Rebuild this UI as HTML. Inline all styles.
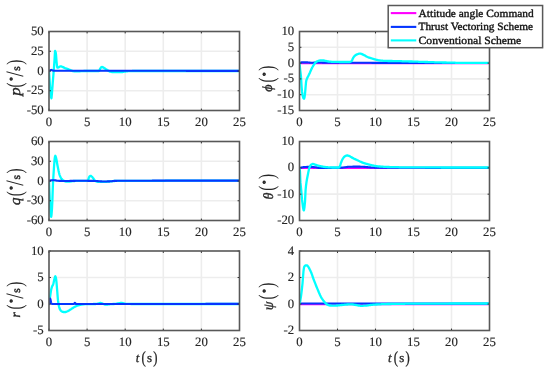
<!DOCTYPE html>
<html><head><meta charset="utf-8"><style>html,body{margin:0;padding:0;background:#fff;width:550px;height:372px;overflow:hidden}svg{display:block}</style></head>
<body>
<svg width="550" height="372" viewBox="0 0 550 372" text-rendering="geometricPrecision">
<rect width="550" height="372" fill="#fff"/>
<path d="M87.10,31.50V110.50M125.20,31.50V110.50M163.30,31.50V110.50M201.40,31.50V110.50M49.00,90.75H239.50M49.00,71.00H239.50M49.00,51.25H239.50" stroke="#ededed" stroke-width="1.6" fill="none"/>
<path d="M337.50,31.50V110.50M375.50,31.50V110.50M413.50,31.50V110.50M451.50,31.50V110.50M299.50,94.70H489.50M299.50,78.90H489.50M299.50,63.10H489.50M299.50,47.30H489.50" stroke="#ededed" stroke-width="1.6" fill="none"/>
<path d="M87.10,141.50V220.50M125.20,141.50V220.50M163.30,141.50V220.50M201.40,141.50V220.50M49.00,200.75H239.50M49.00,181.00H239.50M49.00,161.25H239.50" stroke="#ededed" stroke-width="1.6" fill="none"/>
<path d="M337.50,141.50V220.50M375.50,141.50V220.50M413.50,141.50V220.50M451.50,141.50V220.50M299.50,194.17H489.50M299.50,167.83H489.50" stroke="#ededed" stroke-width="1.6" fill="none"/>
<path d="M87.10,251.00V330.50M125.20,251.00V330.50M163.30,251.00V330.50M201.40,251.00V330.50M49.00,304.00H239.50M49.00,277.50H239.50" stroke="#ededed" stroke-width="1.6" fill="none"/>
<path d="M337.50,251.00V330.50M375.50,251.00V330.50M413.50,251.00V330.50M451.50,251.00V330.50M299.50,304.00H489.50M299.50,277.50H489.50" stroke="#ededed" stroke-width="1.6" fill="none"/>
<clipPath id="c0"><rect x="49.00" y="31.50" width="190.50" height="79.00"/></clipPath>
<clipPath id="c1"><rect x="299.50" y="31.50" width="190.00" height="79.00"/></clipPath>
<clipPath id="c2"><rect x="49.00" y="141.50" width="190.50" height="79.00"/></clipPath>
<clipPath id="c3"><rect x="299.50" y="141.50" width="190.00" height="79.00"/></clipPath>
<clipPath id="c4"><rect x="49.00" y="251.00" width="190.50" height="79.50"/></clipPath>
<clipPath id="c5"><rect x="299.50" y="251.00" width="190.00" height="79.50"/></clipPath>
<g clip-path="url(#c0)"><path d="M49.0,71.0 L49.5,78.5 L49.6,80.0 L50.0,86.6 L50.4,92.0 L50.5,92.9 L51.0,96.9 L51.4,98.3 L51.5,98.1 L52.0,92.6 L52.2,90.0 L52.5,86.1 L52.8,82.0 L53.0,79.5 L53.5,73.5 L53.7,71.0 L54.0,67.0 L54.5,60.0 L55.0,51.5 L55.1,51.0 L55.5,51.8 L55.8,53.0 L56.0,54.7 L56.5,61.0 L57.0,66.1 L57.3,67.5 L57.5,67.5 L58.0,67.5 L58.5,67.4 L59.0,67.2 L59.5,66.8 L60.0,66.5 L60.5,66.3 L61.0,66.4 L61.5,66.5 L62.0,66.7 L62.5,66.9 L63.0,67.1 L63.5,67.4 L64.0,67.6 L64.5,67.9 L64.8,68.0 L65.0,68.1 L65.5,68.3 L66.0,68.5 L66.5,68.6 L67.0,68.8 L67.5,69.0 L68.0,69.1 L68.5,69.3 L69.0,69.5 L69.5,69.7 L70.0,69.9 L70.5,70.2 L71.0,70.4 L71.5,70.6 L72.0,70.8 L72.5,71.0 L73.0,71.1 L73.5,71.2 L74.0,71.3 L74.5,71.3 L75.0,71.3 L75.5,71.4 L76.0,71.4 L76.5,71.4 L77.0,71.4 L77.5,71.4 L78.0,71.4 L78.5,71.4 L79.0,71.4 L79.5,71.3 L80.0,71.3 L80.5,71.2 L81.0,71.2 L81.5,71.1 L82.0,71.1 L82.5,71.1 L83.0,71.1 L83.5,71.1 L84.0,71.0 L84.5,71.0 L85.0,71.0 L85.5,71.0 L86.0,71.0 L86.5,71.0 L87.0,71.0 L87.5,71.0 L88.0,71.0 L88.5,71.0 L89.0,71.0 L89.5,71.0 L90.0,71.0 L90.5,71.0 L91.0,71.0 L91.5,71.0 L92.0,71.0 L92.5,71.0 L93.0,71.0 L93.5,71.0 L94.0,71.0 L94.5,71.0 L95.0,71.0 L95.5,71.0 L96.0,71.0 L96.5,71.0 L97.0,71.0 L97.5,71.0 L98.0,71.0 L98.5,71.0 L99.0,71.0 L99.5,70.3 L100.0,69.0 L100.2,68.6 L100.5,68.2 L101.0,67.5 L101.5,67.1 L101.8,67.0 L102.0,67.0 L102.5,67.1 L103.0,67.4 L103.5,67.6 L104.0,67.9 L104.5,68.2 L105.0,68.5 L105.5,68.9 L106.0,69.2 L106.5,69.5 L107.0,69.9 L107.5,70.2 L108.0,70.5 L108.5,70.8 L109.0,71.1 L109.5,71.4 L110.0,71.6 L110.5,71.7 L111.0,71.8 L111.5,71.9 L112.0,72.0 L112.5,72.1 L113.0,72.1 L113.5,72.1 L114.0,72.1 L114.5,72.1 L115.0,72.2 L115.5,72.2 L116.0,72.2 L116.5,72.2 L117.0,72.2 L117.5,72.2 L118.0,72.2 L118.5,72.2 L119.0,72.2 L119.5,72.2 L120.0,72.1 L120.5,72.1 L121.0,72.1 L121.5,72.0 L122.0,72.0 L122.5,72.0 L123.0,71.9 L123.5,71.8 L124.0,71.7 L124.5,71.6 L125.0,71.6 L125.5,71.5 L126.0,71.4 L126.5,71.3 L127.0,71.3 L127.5,71.3 L128.0,71.2 L128.5,71.2 L129.0,71.2 L129.5,71.2 L130.0,71.1 L130.5,71.1 L131.0,71.1 L131.5,71.1 L132.0,71.1 L132.5,71.0 L133.0,71.0 L133.5,71.0 L134.0,71.0 L134.5,71.0 L135.0,71.0 L135.5,71.0 L136.0,71.0 L136.5,71.0 L137.0,71.0 L137.5,71.0 L138.0,71.0 L138.5,71.0 L139.0,71.0 L139.5,71.0 L140.0,71.0 L140.5,71.0 L141.0,71.0 L141.5,71.0 L142.0,71.0 L142.5,71.0 L143.0,71.0 L143.5,71.0 L144.0,71.0 L144.5,71.0 L145.0,71.0 L145.5,71.0 L146.0,71.0 L146.5,71.0 L147.0,71.0 L147.5,71.0 L148.0,71.0 L148.5,71.0 L149.0,71.0 L149.5,71.0 L150.0,71.0 L150.5,71.0 L151.0,71.0 L151.5,71.0 L152.0,71.0 L152.5,71.0 L153.0,71.0 L153.5,71.0 L154.0,71.0 L154.5,71.0 L155.0,71.0 L155.5,71.0 L156.0,71.0 L156.5,71.0 L157.0,71.0 L157.5,71.0 L158.0,71.0 L158.5,71.0 L159.0,71.0 L159.5,71.0 L160.0,71.0 L160.5,71.0 L161.0,71.0 L161.5,71.0 L162.0,71.0 L162.5,71.0 L163.0,71.0 L163.5,71.0 L164.0,71.0 L164.5,71.0 L165.0,71.0 L165.5,71.0 L166.0,71.0 L166.5,71.0 L167.0,71.0 L167.5,71.0 L168.0,71.0 L168.5,71.0 L169.0,71.0 L169.5,71.0 L170.0,71.0 L170.5,71.0 L171.0,71.0 L171.5,71.0 L172.0,71.0 L172.5,71.0 L173.0,71.0 L173.5,71.0 L174.0,71.0 L174.5,71.0 L175.0,71.0 L175.5,71.0 L176.0,71.0 L176.5,71.0 L177.0,71.0 L177.5,71.0 L178.0,71.0 L178.5,71.0 L179.0,71.0 L179.5,71.0 L180.0,71.0 L180.5,71.0 L181.0,71.0 L181.5,71.0 L182.0,71.0 L182.5,71.0 L183.0,71.0 L183.5,71.0 L184.0,71.0 L184.5,71.0 L185.0,71.0 L185.5,71.0 L186.0,71.0 L186.5,71.0 L187.0,71.0 L187.5,71.0 L188.0,71.0 L188.5,71.0 L189.0,71.0 L189.5,71.0 L190.0,71.0 L190.5,71.0 L191.0,71.0 L191.5,71.0 L192.0,71.0 L192.5,71.0 L193.0,71.0 L193.5,71.0 L194.0,71.0 L194.5,71.0 L195.0,71.0 L195.5,71.0 L196.0,71.0 L196.5,71.0 L197.0,71.0 L197.5,71.0 L198.0,71.0 L198.5,71.0 L199.0,71.0 L199.5,71.0 L200.0,71.0 L200.5,71.0 L201.0,71.0 L201.5,71.0 L202.0,71.0 L202.5,71.0 L203.0,71.0 L203.5,71.0 L204.0,71.0 L204.5,71.0 L205.0,71.0 L205.5,71.0 L206.0,71.0 L206.5,71.0 L207.0,71.0 L207.5,71.0 L208.0,71.0 L208.5,71.0 L209.0,71.0 L209.5,71.0 L210.0,71.0 L210.5,71.0 L211.0,71.0 L211.5,71.0 L212.0,71.0 L212.5,71.0 L213.0,71.0 L213.5,71.0 L214.0,71.0 L214.5,71.0 L215.0,71.0 L215.5,71.0 L216.0,71.0 L216.5,71.0 L217.0,71.0 L217.5,71.0 L218.0,71.0 L218.5,71.0 L219.0,71.0 L219.5,71.0 L220.0,71.0 L220.5,71.0 L221.0,71.0 L221.5,71.0 L222.0,71.0 L222.5,71.0 L223.0,71.0 L223.5,71.0 L224.0,71.0 L224.5,71.0 L225.0,71.0 L225.5,71.0 L226.0,71.0 L226.5,71.0 L227.0,71.0 L227.5,71.0 L228.0,71.0 L228.5,71.0 L229.0,71.0 L229.5,71.0 L230.0,71.0 L230.5,71.0 L231.0,71.0 L231.5,71.0 L232.0,71.0 L232.5,71.0 L233.0,71.0 L233.5,71.0 L234.0,71.0 L234.5,71.0 L235.0,71.0 L235.5,71.0 L236.0,71.0 L236.5,71.0 L237.0,71.0 L237.5,71.0 L238.0,71.0 L238.5,71.0 L239.0,71.0 L239.5,71.0" stroke="#00ffff" stroke-width="2.3" fill="none" stroke-linejoin="round" stroke-linecap="round"/><path d="M49.0,71.0 L49.5,70.7 L50.0,70.5 L50.2,70.4 L50.5,70.2 L51.0,70.0 L51.4,69.9 L51.5,69.9 L52.0,70.1 L52.5,70.4 L52.6,70.4 L53.0,70.5 L53.5,70.7 L54.0,70.8 L54.5,70.8 L55.0,70.8 L55.5,70.8 L56.0,70.8 L56.5,70.8 L57.0,70.8 L57.5,70.8 L58.0,70.8 L58.5,70.8 L59.0,70.8 L59.5,70.8 L60.0,70.8 L60.5,70.8 L61.0,70.8 L61.5,70.8 L62.0,70.8 L62.5,70.8 L63.0,70.8 L63.5,70.8 L64.0,70.8 L64.5,70.8 L65.0,70.8 L65.5,70.8 L66.0,70.8 L66.5,70.8 L67.0,70.8 L67.5,70.8 L68.0,70.8 L68.5,70.8 L69.0,70.8 L69.5,70.8 L70.0,70.8 L70.5,70.8 L71.0,70.8 L71.5,70.8 L72.0,70.8 L72.5,70.8 L73.0,70.8 L73.5,70.8 L74.0,70.8 L74.5,70.8 L75.0,70.8 L75.5,70.8 L76.0,70.8 L76.5,70.8 L77.0,70.8 L77.5,70.8 L78.0,70.8 L78.5,70.8 L79.0,70.8 L79.5,70.8 L80.0,70.8 L80.5,70.8 L81.0,70.8 L81.5,70.8 L82.0,70.8 L82.5,70.8 L83.0,70.8 L83.5,70.8 L84.0,70.8 L84.5,70.8 L85.0,70.8 L85.5,70.8 L86.0,70.8 L86.5,70.8 L87.0,70.8 L87.5,70.8 L88.0,70.8 L88.5,70.8 L89.0,70.8 L89.5,70.8 L90.0,70.8 L90.5,70.8 L91.0,70.8 L91.5,70.8 L92.0,70.8 L92.5,70.8 L93.0,70.8 L93.5,70.8 L94.0,70.8 L94.5,70.8 L95.0,70.8 L95.5,70.8 L96.0,70.8 L96.5,70.8 L97.0,70.8 L97.5,70.8 L98.0,70.8 L98.5,70.8 L99.0,70.8 L99.5,70.8 L100.0,70.8 L100.5,70.8 L101.0,70.8 L101.5,70.8 L102.0,70.8 L102.5,70.8 L103.0,70.8 L103.5,70.8 L104.0,70.8 L104.5,70.8 L105.0,70.8 L105.5,70.8 L106.0,70.8 L106.5,70.8 L107.0,70.8 L107.5,70.8 L108.0,70.8 L108.5,70.8 L109.0,70.8 L109.5,70.8 L110.0,70.8 L110.5,70.8 L111.0,70.8 L111.5,70.8 L112.0,70.8 L112.5,70.8 L113.0,70.8 L113.5,70.8 L114.0,70.8 L114.5,70.8 L115.0,70.8 L115.5,70.8 L116.0,70.8 L116.5,70.8 L117.0,70.8 L117.5,70.8 L118.0,70.8 L118.5,70.8 L119.0,70.8 L119.5,70.8 L120.0,70.8 L120.5,70.8 L121.0,70.8 L121.5,70.8 L122.0,70.8 L122.5,70.8 L123.0,70.8 L123.5,70.8 L124.0,70.8 L124.5,70.8 L125.0,70.8 L125.5,70.8 L126.0,70.8 L126.5,70.8 L127.0,70.8 L127.5,70.8 L128.0,70.8 L128.5,70.8 L129.0,70.8 L129.5,70.8 L130.0,70.8 L130.5,70.8 L131.0,70.8 L131.5,70.8 L132.0,70.8 L132.5,70.8 L133.0,70.8 L133.5,70.8 L134.0,70.8 L134.5,70.8 L135.0,70.8 L135.5,70.8 L136.0,70.8 L136.5,70.8 L137.0,70.8 L137.5,70.8 L138.0,70.8 L138.5,70.8 L139.0,70.8 L139.5,70.8 L140.0,70.8 L140.5,70.8 L141.0,70.8 L141.5,70.8 L142.0,70.8 L142.5,70.8 L143.0,70.8 L143.5,70.8 L144.0,70.8 L144.5,70.8 L145.0,70.8 L145.5,70.8 L146.0,70.8 L146.5,70.8 L147.0,70.8 L147.5,70.8 L148.0,70.8 L148.5,70.8 L149.0,70.8 L149.5,70.8 L150.0,70.8 L150.5,70.8 L151.0,70.8 L151.5,70.8 L152.0,70.8 L152.5,70.8 L153.0,70.8 L153.5,70.8 L154.0,70.8 L154.5,70.8 L155.0,70.8 L155.5,70.8 L156.0,70.8 L156.5,70.8 L157.0,70.8 L157.5,70.8 L158.0,70.8 L158.5,70.8 L159.0,70.8 L159.5,70.8 L160.0,70.8 L160.5,70.8 L161.0,70.8 L161.5,70.8 L162.0,70.8 L162.5,70.8 L163.0,70.8 L163.5,70.8 L164.0,70.8 L164.5,70.8 L165.0,70.8 L165.5,70.8 L166.0,70.8 L166.5,70.8 L167.0,70.8 L167.5,70.8 L168.0,70.8 L168.5,70.8 L169.0,70.8 L169.5,70.8 L170.0,70.8 L170.5,70.8 L171.0,70.8 L171.5,70.8 L172.0,70.8 L172.5,70.8 L173.0,70.8 L173.5,70.8 L174.0,70.8 L174.5,70.8 L175.0,70.8 L175.5,70.8 L176.0,70.8 L176.5,70.8 L177.0,70.8 L177.5,70.8 L178.0,70.8 L178.5,70.8 L179.0,70.8 L179.5,70.8 L180.0,70.8 L180.5,70.8 L181.0,70.8 L181.5,70.8 L182.0,70.8 L182.5,70.8 L183.0,70.8 L183.5,70.8 L184.0,70.8 L184.5,70.8 L185.0,70.8 L185.5,70.8 L186.0,70.8 L186.5,70.9 L187.0,70.9 L187.5,70.9 L188.0,70.9 L188.5,70.9 L189.0,70.9 L189.5,70.9 L190.0,70.9 L190.5,70.9 L191.0,70.9 L191.5,70.9 L192.0,70.9 L192.5,70.9 L193.0,70.9 L193.5,70.9 L194.0,70.9 L194.5,70.9 L195.0,70.9 L195.5,70.9 L196.0,70.9 L196.5,70.9 L197.0,70.9 L197.5,70.9 L198.0,70.9 L198.5,70.9 L199.0,70.9 L199.5,70.9 L200.0,70.9 L200.5,70.9 L201.0,70.9 L201.5,70.9 L202.0,70.9 L202.5,70.9 L203.0,70.9 L203.5,70.9 L204.0,70.9 L204.5,70.9 L205.0,70.9 L205.5,70.9 L206.0,70.9 L206.5,70.9 L207.0,70.9 L207.5,70.9 L208.0,70.9 L208.5,70.9 L209.0,70.9 L209.5,70.9 L210.0,70.9 L210.5,70.9 L211.0,70.9 L211.5,70.9 L212.0,70.9 L212.5,70.9 L213.0,70.9 L213.5,70.9 L214.0,70.9 L214.5,70.9 L215.0,70.9 L215.5,70.9 L216.0,70.9 L216.5,70.9 L217.0,70.9 L217.5,70.9 L218.0,70.9 L218.5,70.9 L219.0,70.9 L219.5,70.9 L220.0,70.9 L220.5,70.9 L221.0,70.9 L221.5,70.9 L222.0,70.9 L222.5,70.9 L223.0,70.9 L223.5,70.9 L224.0,70.9 L224.5,70.9 L225.0,70.9 L225.5,70.9 L226.0,70.9 L226.5,70.9 L227.0,70.9 L227.5,70.9 L228.0,70.9 L228.5,70.9 L229.0,70.9 L229.5,70.9 L230.0,70.9 L230.5,70.9 L231.0,70.9 L231.5,70.9 L232.0,70.9 L232.5,70.9 L233.0,70.9 L233.5,70.9 L234.0,70.9 L234.5,70.9 L235.0,70.9 L235.5,70.9 L236.0,70.9 L236.5,70.9 L237.0,70.9 L237.5,70.9 L238.0,70.9 L238.5,70.9 L239.0,70.9 L239.5,70.9" stroke="#0535ff" stroke-width="2.1" fill="none" stroke-linejoin="round" stroke-linecap="round"/></g>
<g clip-path="url(#c2)"><path d="M49.0,180.8 L49.4,190.0 L49.5,192.5 L49.8,200.0 L50.0,203.9 L50.4,210.0 L50.5,211.2 L51.0,216.2 L51.2,216.8 L51.5,215.1 L51.9,210.0 L52.0,208.5 L52.4,200.0 L52.5,197.2 L52.8,188.0 L53.0,183.6 L53.3,178.0 L53.5,174.6 L54.0,167.0 L54.5,160.3 L54.7,158.5 L55.0,156.7 L55.3,155.8 L55.5,156.0 L56.0,157.6 L56.1,158.0 L56.5,159.8 L57.0,162.8 L57.4,165.0 L57.5,165.5 L58.0,168.0 L58.5,170.5 L59.0,172.7 L59.5,174.6 L59.7,175.2 L60.0,176.0 L60.5,177.1 L61.0,178.0 L61.5,178.8 L62.0,179.4 L62.5,179.9 L63.0,180.3 L63.5,180.6 L64.0,180.9 L64.5,181.1 L65.0,181.3 L65.5,181.4 L66.0,181.6 L66.5,181.7 L67.0,181.7 L67.5,181.7 L68.0,181.7 L68.5,181.6 L69.0,181.6 L69.5,181.5 L70.0,181.5 L70.5,181.4 L71.0,181.4 L71.5,181.3 L72.0,181.2 L72.5,181.2 L73.0,181.1 L73.5,181.0 L74.0,181.0 L74.5,181.0 L75.0,180.9 L75.5,180.9 L76.0,180.9 L76.5,180.9 L77.0,180.9 L77.5,180.8 L78.0,180.8 L78.5,180.8 L79.0,180.8 L79.5,180.8 L80.0,180.8 L80.5,180.8 L81.0,180.8 L81.5,180.8 L82.0,180.8 L82.5,180.8 L83.0,180.8 L83.5,180.8 L84.0,180.8 L84.5,180.8 L85.0,180.8 L85.5,180.8 L86.0,180.8 L86.5,180.8 L87.0,180.8 L87.5,180.8 L88.0,180.8 L88.5,178.9 L88.6,178.5 L89.0,177.4 L89.5,176.5 L90.0,176.1 L90.5,175.9 L91.0,176.0 L91.5,176.4 L91.8,176.6 L92.0,176.8 L92.5,177.3 L93.0,178.0 L93.5,178.6 L94.0,179.3 L94.5,180.0 L95.0,180.6 L95.2,180.8 L95.5,181.0 L96.0,181.3 L96.5,181.6 L97.0,181.7 L97.5,181.7 L98.0,181.8 L98.5,181.8 L99.0,181.9 L99.5,181.9 L100.0,181.9 L100.5,181.9 L101.0,181.9 L101.5,181.9 L102.0,181.9 L102.5,181.9 L103.0,181.9 L103.5,181.9 L104.0,181.9 L104.5,181.8 L105.0,181.8 L105.5,181.8 L106.0,181.8 L106.5,181.8 L107.0,181.7 L107.5,181.7 L108.0,181.6 L108.5,181.6 L109.0,181.5 L109.5,181.5 L110.0,181.4 L110.5,181.3 L111.0,181.3 L111.5,181.3 L112.0,181.2 L112.5,181.1 L113.0,181.1 L113.5,181.0 L114.0,181.0 L114.5,181.0 L115.0,180.9 L115.5,180.9 L116.0,180.9 L116.5,180.9 L117.0,180.9 L117.5,180.9 L118.0,180.9 L118.5,180.9 L119.0,180.9 L119.5,180.9 L120.0,180.9 L120.5,180.9 L121.0,180.9 L121.5,180.9 L122.0,180.9 L122.5,180.9 L123.0,180.9 L123.5,180.9 L124.0,180.9 L124.5,180.9 L125.0,180.9 L125.5,180.9 L126.0,180.9 L126.5,180.9 L127.0,180.9 L127.5,180.9 L128.0,180.9 L128.5,180.8 L129.0,180.8 L129.5,180.8 L130.0,180.8 L130.5,180.8 L131.0,180.8 L131.5,180.8 L132.0,180.8 L132.5,180.8 L133.0,180.8 L133.5,180.8 L134.0,180.8 L134.5,180.8 L135.0,180.8 L135.5,180.8 L136.0,180.8 L136.5,180.8 L137.0,180.8 L137.5,180.8 L138.0,180.8 L138.5,180.8 L139.0,180.8 L139.5,180.8 L140.0,180.8 L140.5,180.8 L141.0,180.8 L141.5,180.8 L142.0,180.8 L142.5,180.8 L143.0,180.8 L143.5,180.8 L144.0,180.8 L144.5,180.8 L145.0,180.8 L145.5,180.8 L146.0,180.8 L146.5,180.8 L147.0,180.8 L147.5,180.8 L148.0,180.8 L148.5,180.8 L149.0,180.8 L149.5,180.8 L150.0,180.8 L150.5,180.8 L151.0,180.8 L151.5,180.8 L152.0,180.8 L152.5,180.8 L153.0,180.8 L153.5,180.8 L154.0,180.8 L154.5,180.8 L155.0,180.8 L155.5,180.8 L156.0,180.8 L156.5,180.8 L157.0,180.8 L157.5,180.8 L158.0,180.8 L158.5,180.8 L159.0,180.8 L159.5,180.8 L160.0,180.8 L160.5,180.8 L161.0,180.8 L161.5,180.8 L162.0,180.8 L162.5,180.8 L163.0,180.8 L163.5,180.8 L164.0,180.8 L164.5,180.8 L165.0,180.8 L165.5,180.7 L166.0,180.7 L166.5,180.7 L167.0,180.7 L167.5,180.7 L168.0,180.7 L168.5,180.7 L169.0,180.7 L169.5,180.7 L170.0,180.7 L170.5,180.7 L171.0,180.7 L171.5,180.7 L172.0,180.7 L172.5,180.7 L173.0,180.7 L173.5,180.7 L174.0,180.7 L174.5,180.7 L175.0,180.7 L175.5,180.7 L176.0,180.7 L176.5,180.7 L177.0,180.7 L177.5,180.7 L178.0,180.7 L178.5,180.7 L179.0,180.7 L179.5,180.7 L180.0,180.7 L180.5,180.7 L181.0,180.7 L181.5,180.7 L182.0,180.7 L182.5,180.7 L183.0,180.7 L183.5,180.7 L184.0,180.7 L184.5,180.7 L185.0,180.7 L185.5,180.7 L186.0,180.7 L186.5,180.7 L187.0,180.7 L187.5,180.7 L188.0,180.7 L188.5,180.7 L189.0,180.7 L189.5,180.7 L190.0,180.7 L190.5,180.7 L191.0,180.7 L191.5,180.7 L192.0,180.7 L192.5,180.7 L193.0,180.7 L193.5,180.7 L194.0,180.7 L194.5,180.7 L195.0,180.7 L195.5,180.7 L196.0,180.7 L196.5,180.7 L197.0,180.7 L197.5,180.7 L198.0,180.7 L198.5,180.7 L199.0,180.7 L199.5,180.7 L200.0,180.7 L200.5,180.7 L201.0,180.7 L201.5,180.7 L202.0,180.7 L202.5,180.7 L203.0,180.7 L203.5,180.7 L204.0,180.7 L204.5,180.7 L205.0,180.7 L205.5,180.7 L206.0,180.7 L206.5,180.7 L207.0,180.7 L207.5,180.7 L208.0,180.7 L208.5,180.7 L209.0,180.7 L209.5,180.7 L210.0,180.7 L210.5,180.7 L211.0,180.7 L211.5,180.7 L212.0,180.7 L212.5,180.7 L213.0,180.7 L213.5,180.7 L214.0,180.7 L214.5,180.7 L215.0,180.7 L215.5,180.7 L216.0,180.7 L216.5,180.7 L217.0,180.7 L217.5,180.7 L218.0,180.7 L218.5,180.7 L219.0,180.7 L219.5,180.7 L220.0,180.7 L220.5,180.7 L221.0,180.7 L221.5,180.7 L222.0,180.7 L222.5,180.7 L223.0,180.7 L223.5,180.7 L224.0,180.7 L224.5,180.7 L225.0,180.7 L225.5,180.7 L226.0,180.7 L226.5,180.7 L227.0,180.7 L227.5,180.7 L228.0,180.7 L228.5,180.7 L229.0,180.7 L229.5,180.7 L230.0,180.7 L230.5,180.7 L231.0,180.7 L231.5,180.7 L232.0,180.7 L232.5,180.7 L233.0,180.7 L233.5,180.7 L234.0,180.7 L234.5,180.7 L235.0,180.7 L235.5,180.7 L236.0,180.7 L236.5,180.7 L237.0,180.7 L237.5,180.7 L238.0,180.7 L238.5,180.7 L239.0,180.7 L239.5,180.7" stroke="#00ffff" stroke-width="2.3" fill="none" stroke-linejoin="round" stroke-linecap="round"/><path d="M49.0,181.0 L49.5,180.8 L50.0,180.6 L50.5,180.5 L51.0,180.4 L51.5,180.3 L52.0,180.2 L52.5,180.2 L53.0,180.2 L53.5,180.2 L54.0,180.2 L54.5,180.3 L55.0,180.3 L55.5,180.4 L56.0,180.4 L56.5,180.6 L57.0,180.7 L57.5,180.7 L58.0,180.8 L58.5,180.8 L59.0,180.9 L59.5,180.9 L60.0,180.9 L60.5,180.9 L61.0,180.9 L61.5,180.9 L62.0,181.0 L62.5,181.0 L63.0,181.0 L63.5,181.0 L64.0,181.0 L64.5,181.0 L65.0,181.0 L65.5,181.0 L66.0,181.0 L66.5,181.0 L67.0,181.0 L67.5,181.0 L68.0,181.0 L68.5,181.0 L69.0,181.0 L69.5,181.0 L70.0,180.9 L70.5,180.9 L71.0,180.9 L71.5,180.9 L72.0,180.9 L72.5,180.9 L73.0,180.9 L73.5,180.9 L74.0,180.9 L74.5,180.9 L75.0,180.9 L75.5,180.8 L76.0,180.8 L76.5,180.8 L77.0,180.8 L77.5,180.8 L78.0,180.8 L78.5,180.8 L79.0,180.8 L79.5,180.8 L80.0,180.8 L80.5,180.8 L81.0,180.8 L81.5,180.8 L82.0,180.8 L82.5,180.8 L83.0,180.8 L83.5,180.8 L84.0,180.8 L84.5,180.8 L85.0,180.8 L85.5,180.8 L86.0,180.8 L86.5,180.8 L87.0,180.8 L87.5,180.8 L88.0,180.9 L88.5,180.9 L89.0,180.9 L89.5,180.9 L90.0,180.9 L90.5,180.9 L91.0,180.9 L91.5,180.9 L92.0,180.9 L92.5,180.9 L93.0,180.9 L93.5,180.9 L94.0,181.0 L94.5,181.0 L95.0,181.0 L95.5,181.0 L96.0,181.0 L96.5,181.0 L97.0,181.0 L97.5,181.1 L98.0,181.1 L98.5,181.2 L99.0,181.2 L99.5,181.3 L100.0,181.3 L100.5,181.4 L101.0,181.4 L101.5,181.4 L102.0,181.5 L102.5,181.5 L103.0,181.5 L103.5,181.5 L104.0,181.5 L104.5,181.5 L105.0,181.5 L105.5,181.5 L106.0,181.5 L106.5,181.5 L107.0,181.5 L107.5,181.4 L108.0,181.4 L108.5,181.4 L109.0,181.4 L109.5,181.4 L110.0,181.3 L110.5,181.3 L111.0,181.3 L111.5,181.2 L112.0,181.2 L112.5,181.1 L113.0,181.0 L113.5,181.0 L114.0,181.0 L114.5,180.9 L115.0,180.9 L115.5,180.9 L116.0,180.9 L116.5,180.9 L117.0,180.8 L117.5,180.8 L118.0,180.8 L118.5,180.8 L119.0,180.8 L119.5,180.8 L120.0,180.8 L120.5,180.8 L121.0,180.7 L121.5,180.7 L122.0,180.7 L122.5,180.7 L123.0,180.7 L123.5,180.7 L124.0,180.7 L124.5,180.7 L125.0,180.7 L125.5,180.7 L126.0,180.7 L126.5,180.7 L127.0,180.7 L127.5,180.7 L128.0,180.7 L128.5,180.7 L129.0,180.7 L129.5,180.7 L130.0,180.7 L130.5,180.7 L131.0,180.7 L131.5,180.7 L132.0,180.7 L132.5,180.7 L133.0,180.7 L133.5,180.7 L134.0,180.7 L134.5,180.7 L135.0,180.7 L135.5,180.7 L136.0,180.7 L136.5,180.7 L137.0,180.7 L137.5,180.7 L138.0,180.7 L138.5,180.7 L139.0,180.7 L139.5,180.7 L140.0,180.7 L140.5,180.7 L141.0,180.7 L141.5,180.7 L142.0,180.7 L142.5,180.7 L143.0,180.7 L143.5,180.7 L144.0,180.7 L144.5,180.7 L145.0,180.7 L145.5,180.7 L146.0,180.7 L146.5,180.7 L147.0,180.7 L147.5,180.7 L148.0,180.7 L148.5,180.7 L149.0,180.7 L149.5,180.7 L150.0,180.7 L150.5,180.7 L151.0,180.7 L151.5,180.7 L152.0,180.7 L152.5,180.6 L153.0,180.6 L153.5,180.6 L154.0,180.6 L154.5,180.6 L155.0,180.6 L155.5,180.6 L156.0,180.6 L156.5,180.6 L157.0,180.6 L157.5,180.6 L158.0,180.6 L158.5,180.6 L159.0,180.6 L159.5,180.6 L160.0,180.6 L160.5,180.6 L161.0,180.6 L161.5,180.6 L162.0,180.6 L162.5,180.6 L163.0,180.6 L163.5,180.6 L164.0,180.6 L164.5,180.6 L165.0,180.6 L165.5,180.6 L166.0,180.6 L166.5,180.6 L167.0,180.6 L167.5,180.6 L168.0,180.6 L168.5,180.6 L169.0,180.6 L169.5,180.6 L170.0,180.6 L170.5,180.6 L171.0,180.6 L171.5,180.6 L172.0,180.6 L172.5,180.6 L173.0,180.6 L173.5,180.6 L174.0,180.6 L174.5,180.6 L175.0,180.6 L175.5,180.6 L176.0,180.6 L176.5,180.6 L177.0,180.6 L177.5,180.6 L178.0,180.6 L178.5,180.6 L179.0,180.6 L179.5,180.6 L180.0,180.6 L180.5,180.6 L181.0,180.6 L181.5,180.6 L182.0,180.6 L182.5,180.6 L183.0,180.6 L183.5,180.6 L184.0,180.6 L184.5,180.6 L185.0,180.6 L185.5,180.6 L186.0,180.6 L186.5,180.6 L187.0,180.6 L187.5,180.6 L188.0,180.6 L188.5,180.6 L189.0,180.6 L189.5,180.6 L190.0,180.6 L190.5,180.6 L191.0,180.6 L191.5,180.6 L192.0,180.6 L192.5,180.6 L193.0,180.6 L193.5,180.6 L194.0,180.6 L194.5,180.6 L195.0,180.6 L195.5,180.6 L196.0,180.6 L196.5,180.6 L197.0,180.6 L197.5,180.6 L198.0,180.6 L198.5,180.6 L199.0,180.6 L199.5,180.6 L200.0,180.6 L200.5,180.6 L201.0,180.6 L201.5,180.6 L202.0,180.6 L202.5,180.6 L203.0,180.6 L203.5,180.6 L204.0,180.6 L204.5,180.6 L205.0,180.6 L205.5,180.6 L206.0,180.6 L206.5,180.6 L207.0,180.6 L207.5,180.6 L208.0,180.6 L208.5,180.6 L209.0,180.6 L209.5,180.6 L210.0,180.6 L210.5,180.6 L211.0,180.6 L211.5,180.6 L212.0,180.6 L212.5,180.6 L213.0,180.6 L213.5,180.6 L214.0,180.6 L214.5,180.6 L215.0,180.6 L215.5,180.6 L216.0,180.6 L216.5,180.6 L217.0,180.6 L217.5,180.6 L218.0,180.6 L218.5,180.6 L219.0,180.6 L219.5,180.6 L220.0,180.6 L220.5,180.6 L221.0,180.6 L221.5,180.6 L222.0,180.6 L222.5,180.6 L223.0,180.6 L223.5,180.6 L224.0,180.6 L224.5,180.6 L225.0,180.6 L225.5,180.6 L226.0,180.6 L226.5,180.6 L227.0,180.6 L227.5,180.6 L228.0,180.6 L228.5,180.6 L229.0,180.6 L229.5,180.6 L230.0,180.6 L230.5,180.6 L231.0,180.6 L231.5,180.6 L232.0,180.6 L232.5,180.6 L233.0,180.6 L233.5,180.6 L234.0,180.6 L234.5,180.6 L235.0,180.6 L235.5,180.6 L236.0,180.6 L236.5,180.6 L237.0,180.6 L237.5,180.6 L238.0,180.6 L238.5,180.6 L239.0,180.6 L239.5,180.6" stroke="#0535ff" stroke-width="2.1" fill="none" stroke-linejoin="round" stroke-linecap="round"/></g>
<g clip-path="url(#c4)"><path d="M49.0,304.0 L49.5,300.7 L49.6,300.0 L50.0,297.3 L50.2,296.0 L50.5,293.9 L51.0,290.5 L51.2,289.5 L51.5,288.3 L52.0,286.7 L52.2,286.2 L52.5,285.6 L53.0,284.8 L53.2,284.3 L53.5,283.2 L54.0,280.8 L54.3,279.5 L54.5,278.7 L55.0,276.8 L55.3,276.3 L55.5,276.5 L56.0,278.4 L56.2,279.5 L56.5,282.3 L56.8,286.0 L57.0,288.3 L57.3,292.0 L57.5,294.7 L57.8,298.5 L58.0,300.4 L58.5,304.0 L59.0,306.5 L59.5,308.3 L60.0,309.4 L60.5,310.2 L61.0,310.8 L61.5,311.2 L62.0,311.5 L62.5,311.8 L63.0,311.9 L63.5,312.0 L64.0,312.0 L64.5,312.1 L65.0,312.1 L65.5,312.0 L66.0,311.9 L66.5,311.7 L67.0,311.5 L67.5,311.3 L68.0,311.1 L68.5,310.8 L69.0,310.5 L69.5,310.2 L70.0,309.8 L70.5,309.5 L71.0,309.2 L71.4,308.9 L71.5,308.8 L72.0,308.5 L72.5,308.2 L73.0,307.9 L73.5,307.6 L74.0,307.2 L74.5,307.0 L75.0,306.7 L75.2,306.6 L75.5,306.5 L76.0,306.2 L76.5,306.0 L77.0,305.8 L77.5,305.6 L78.0,305.4 L78.5,305.3 L79.0,305.1 L79.5,305.0 L80.0,304.9 L80.5,304.8 L81.0,304.7 L81.5,304.6 L82.0,304.5 L82.5,304.4 L83.0,304.4 L83.5,304.3 L84.0,304.3 L84.5,304.2 L85.0,304.2 L85.5,304.2 L86.0,304.2 L86.5,304.2 L87.0,304.1 L87.5,304.1 L88.0,304.1 L88.5,304.1 L89.0,304.1 L89.5,304.1 L90.0,304.1 L90.5,304.1 L91.0,304.1 L91.5,304.1 L92.0,304.1 L92.5,304.1 L93.0,304.1 L93.5,304.0 L94.0,304.0 L94.5,304.0 L95.0,304.0 L95.5,304.0 L96.0,303.9 L96.5,303.8 L97.0,303.8 L97.5,303.7 L98.0,303.6 L98.5,303.5 L99.0,303.3 L99.5,303.2 L100.0,303.0 L100.5,303.0 L101.0,303.1 L101.5,303.2 L102.0,303.4 L102.5,303.6 L103.0,303.8 L103.5,304.0 L104.0,304.2 L104.5,304.4 L105.0,304.5 L105.5,304.7 L106.0,304.7 L106.5,304.7 L107.0,304.6 L107.5,304.5 L108.0,304.4 L108.5,304.4 L109.0,304.3 L109.5,304.3 L110.0,304.2 L110.5,304.2 L111.0,304.2 L111.5,304.1 L112.0,304.1 L112.5,304.1 L113.0,304.0 L113.5,304.0 L114.0,304.0 L114.5,303.9 L115.0,303.9 L115.5,303.8 L116.0,303.8 L116.5,303.7 L117.0,303.6 L117.5,303.5 L118.0,303.4 L118.5,303.3 L119.0,303.2 L119.5,303.2 L120.0,303.1 L120.5,303.0 L121.0,303.0 L121.4,303.0 L121.5,303.0 L122.0,303.0 L122.5,303.1 L123.0,303.2 L123.5,303.3 L124.0,303.5 L124.5,303.6 L125.0,303.7 L125.5,303.8 L126.0,303.8 L126.5,303.8 L127.0,303.8 L127.5,303.9 L128.0,303.9 L128.5,303.9 L129.0,303.9 L129.5,303.9 L130.0,303.9 L130.5,303.9 L131.0,304.0 L131.5,304.0 L132.0,304.0 L132.5,304.0 L133.0,304.0 L133.5,304.0 L134.0,304.0 L134.5,304.0 L135.0,304.0 L135.5,304.0 L136.0,304.0 L136.5,304.0 L137.0,304.0 L137.5,304.0 L138.0,304.0 L138.5,304.0 L139.0,304.0 L139.5,304.0 L140.0,304.0 L140.5,304.0 L141.0,304.0 L141.5,304.0 L142.0,304.0 L142.5,304.0 L143.0,304.0 L143.5,304.0 L144.0,304.0 L144.5,304.0 L145.0,304.0 L145.5,304.0 L146.0,304.0 L146.5,304.0 L147.0,304.0 L147.5,304.0 L148.0,304.0 L148.5,304.0 L149.0,304.0 L149.5,304.0 L150.0,304.0 L150.5,304.0 L151.0,304.0 L151.5,304.0 L152.0,304.0 L152.5,304.0 L153.0,304.0 L153.5,304.0 L154.0,304.0 L154.5,304.0 L155.0,304.0 L155.5,304.0 L156.0,304.0 L156.5,304.0 L157.0,304.0 L157.5,304.0 L158.0,304.0 L158.5,304.0 L159.0,304.0 L159.5,304.0 L160.0,304.0 L160.5,304.0 L161.0,304.0 L161.5,304.0 L162.0,304.0 L162.5,304.0 L163.0,304.0 L163.5,304.0 L164.0,304.0 L164.5,304.0 L165.0,304.0 L165.5,304.0 L166.0,304.0 L166.5,304.0 L167.0,304.0 L167.5,304.0 L168.0,304.0 L168.5,304.0 L169.0,304.0 L169.5,304.0 L170.0,304.0 L170.5,304.0 L171.0,304.0 L171.5,304.0 L172.0,304.0 L172.5,304.0 L173.0,304.0 L173.5,304.0 L174.0,304.0 L174.5,304.0 L175.0,304.0 L175.5,304.0 L176.0,304.0 L176.5,304.0 L177.0,304.0 L177.5,304.0 L178.0,304.0 L178.5,304.0 L179.0,304.0 L179.5,304.0 L180.0,304.0 L180.5,304.0 L181.0,304.0 L181.5,304.0 L182.0,304.0 L182.5,304.0 L183.0,304.0 L183.5,304.0 L184.0,304.0 L184.5,304.0 L185.0,304.0 L185.5,304.0 L186.0,304.0 L186.5,304.0 L187.0,304.0 L187.5,304.0 L188.0,304.0 L188.5,304.0 L189.0,304.0 L189.5,304.0 L190.0,304.0 L190.5,304.0 L191.0,304.0 L191.5,304.0 L192.0,304.0 L192.5,304.0 L193.0,304.0 L193.5,304.0 L194.0,304.0 L194.5,304.0 L195.0,304.0 L195.5,304.0 L196.0,304.0 L196.5,304.0 L197.0,304.0 L197.5,304.0 L198.0,304.0 L198.5,304.0 L199.0,304.0 L199.5,304.0 L200.0,304.0 L200.5,304.0 L201.0,304.0 L201.5,304.0 L202.0,304.0 L202.5,304.0 L203.0,304.0 L203.5,304.0 L204.0,304.0 L204.5,304.0 L205.0,304.0 L205.5,304.0 L206.0,304.0 L206.5,304.0 L207.0,304.0 L207.5,304.0 L208.0,304.0 L208.5,304.0 L209.0,304.0 L209.5,304.0 L210.0,304.0 L210.5,304.0 L211.0,304.0 L211.5,304.0 L212.0,304.0 L212.5,304.0 L213.0,304.0 L213.5,304.0 L214.0,304.0 L214.5,304.0 L215.0,304.0 L215.5,304.0 L216.0,304.0 L216.5,304.0 L217.0,304.0 L217.5,304.0 L218.0,304.0 L218.5,304.0 L219.0,304.0 L219.5,304.0 L220.0,304.0 L220.5,304.0 L221.0,304.0 L221.5,304.0 L222.0,304.0 L222.5,304.0 L223.0,304.0 L223.5,304.0 L224.0,304.0 L224.5,304.0 L225.0,304.0 L225.5,304.0 L226.0,304.0 L226.5,304.0 L227.0,304.0 L227.5,304.0 L228.0,304.0 L228.5,304.0 L229.0,304.0 L229.5,304.0 L230.0,304.0 L230.5,304.0 L231.0,304.0 L231.5,304.0 L232.0,304.0 L232.5,304.0 L233.0,304.0 L233.5,304.0 L234.0,304.0 L234.5,304.0 L235.0,304.0 L235.5,304.0 L236.0,304.0 L236.5,304.0 L237.0,304.0 L237.5,304.0 L238.0,304.0 L238.5,304.0 L239.0,304.0 L239.5,304.0" stroke="#00ffff" stroke-width="2.3" fill="none" stroke-linejoin="round" stroke-linecap="round"/><path d="M49.0,304.0 L49.5,300.9 L49.6,300.5 L50.0,298.9 L50.2,298.6 L50.5,299.5 L50.8,301.0 L51.0,302.2 L51.3,303.6 L51.5,303.7 L52.0,303.9 L52.5,304.0 L53.0,304.0 L53.5,304.0 L54.0,304.0 L54.5,304.0 L55.0,304.0 L55.5,304.0 L56.0,304.0 L56.5,304.0 L57.0,304.0 L57.5,304.0 L58.0,304.0 L58.5,304.0 L59.0,304.0 L59.5,304.0 L60.0,304.0 L60.5,304.0 L61.0,304.0 L61.5,304.0 L62.0,304.0 L62.5,304.0 L63.0,304.0 L63.5,304.0 L64.0,304.0 L64.5,304.0 L65.0,304.0 L65.5,304.0 L66.0,304.0 L66.5,304.0 L67.0,304.0 L67.5,304.0 L68.0,304.0 L68.5,304.0 L69.0,304.0 L69.5,304.0 L70.0,304.0 L70.5,304.0 L71.0,304.0 L71.5,304.0 L72.0,304.0 L72.5,304.0 L73.0,304.0 L73.5,304.0 L73.9,304.0 L74.0,304.0 L74.5,303.2 L74.9,302.7 L75.0,302.7 L75.5,303.5 L75.9,304.0 L76.0,304.0 L76.5,304.0 L77.0,304.0 L77.5,304.0 L78.0,304.0 L78.5,304.0 L79.0,304.0 L79.5,304.0 L80.0,304.0 L80.5,304.0 L81.0,304.0 L81.5,304.0 L82.0,304.0 L82.5,304.0 L83.0,304.0 L83.5,304.0 L84.0,304.0 L84.5,304.0 L85.0,304.0 L85.5,304.0 L86.0,304.0 L86.5,304.0 L87.0,304.0 L87.5,304.0 L88.0,304.0 L88.5,304.0 L89.0,304.0 L89.5,304.0 L90.0,304.0 L90.5,304.0 L91.0,304.0 L91.5,304.0 L92.0,304.0 L92.5,304.0 L93.0,304.0 L93.5,304.0 L94.0,304.0 L94.5,304.0 L95.0,304.0 L95.5,304.0 L96.0,304.0 L96.5,304.0 L97.0,304.0 L97.5,304.0 L98.0,304.0 L98.5,304.0 L99.0,304.0 L99.5,304.0 L100.0,304.0 L100.5,304.0 L101.0,304.0 L101.5,304.0 L102.0,304.0 L102.5,304.0 L103.0,304.0 L103.5,304.0 L104.0,304.0 L104.5,304.0 L105.0,304.0 L105.5,304.0 L106.0,304.0 L106.5,304.0 L107.0,304.0 L107.5,304.0 L108.0,304.0 L108.5,304.0 L109.0,304.0 L109.5,304.0 L110.0,304.0 L110.5,304.0 L111.0,304.0 L111.5,304.0 L112.0,304.0 L112.5,304.0 L113.0,304.0 L113.5,304.0 L114.0,304.0 L114.5,304.0 L115.0,304.0 L115.5,304.0 L116.0,304.0 L116.5,304.0 L117.0,304.0 L117.5,304.0 L118.0,304.0 L118.5,304.0 L119.0,304.0 L119.5,304.0 L120.0,304.0 L120.5,304.0 L121.0,304.0 L121.5,304.0 L122.0,304.0 L122.5,304.0 L123.0,304.0 L123.5,304.0 L124.0,304.0 L124.5,304.0 L125.0,304.0 L125.5,304.0 L126.0,304.0 L126.5,304.0 L127.0,304.0 L127.5,304.0 L128.0,304.0 L128.5,304.0 L129.0,304.0 L129.5,304.0 L130.0,304.0 L130.5,304.0 L131.0,304.0 L131.5,304.0 L132.0,304.0 L132.5,304.0 L133.0,304.0 L133.5,304.0 L134.0,304.0 L134.5,304.0 L135.0,304.0 L135.5,304.0 L136.0,304.0 L136.5,304.0 L137.0,304.0 L137.5,304.0 L138.0,304.0 L138.5,304.0 L139.0,304.0 L139.5,304.0 L140.0,304.0 L140.5,304.0 L141.0,304.0 L141.5,304.0 L142.0,304.0 L142.5,304.0 L143.0,304.0 L143.5,304.0 L144.0,304.0 L144.5,304.0 L145.0,304.0 L145.5,304.0 L146.0,304.0 L146.5,304.0 L147.0,304.0 L147.5,304.0 L148.0,304.0 L148.5,304.0 L149.0,304.0 L149.5,304.0 L150.0,304.0 L150.5,304.0 L151.0,304.0 L151.5,304.0 L152.0,304.0 L152.5,304.0 L153.0,304.0 L153.5,304.0 L154.0,304.0 L154.5,304.0 L155.0,304.0 L155.5,304.0 L156.0,304.0 L156.5,304.0 L157.0,304.0 L157.5,304.0 L158.0,304.0 L158.5,304.0 L159.0,304.0 L159.5,304.0 L160.0,304.0 L160.5,304.0 L161.0,304.0 L161.5,304.0 L162.0,304.0 L162.5,304.0 L163.0,304.0 L163.5,304.0 L164.0,304.0 L164.5,304.0 L165.0,304.0 L165.5,304.0 L166.0,304.0 L166.5,304.0 L167.0,304.0 L167.5,304.0 L168.0,304.0 L168.5,304.0 L169.0,304.0 L169.5,304.0 L170.0,304.0 L170.5,304.0 L171.0,304.0 L171.5,304.0 L172.0,304.0 L172.5,304.0 L173.0,304.0 L173.5,304.0 L174.0,304.0 L174.5,304.0 L175.0,304.0 L175.5,304.0 L176.0,304.0 L176.5,304.0 L177.0,304.0 L177.5,304.0 L178.0,304.0 L178.5,304.0 L179.0,304.0 L179.5,304.0 L180.0,304.0 L180.5,304.0 L181.0,304.0 L181.5,304.0 L182.0,304.0 L182.5,304.0 L183.0,304.0 L183.5,304.0 L184.0,304.0 L184.5,304.0 L185.0,304.0 L185.5,304.0 L186.0,304.0 L186.5,304.0 L187.0,304.0 L187.5,304.0 L188.0,304.0 L188.5,304.0 L189.0,304.0 L189.5,304.0 L190.0,304.0 L190.5,304.0 L191.0,304.0 L191.5,304.0 L192.0,304.0 L192.5,304.0 L193.0,304.0 L193.5,304.0 L194.0,304.0 L194.5,304.0 L195.0,304.0 L195.5,304.0 L196.0,304.0 L196.5,304.0 L197.0,304.0 L197.5,304.0 L198.0,304.0 L198.5,304.0 L199.0,304.0 L199.5,304.0 L200.0,304.0 L200.5,304.0 L201.0,304.0 L201.5,304.0 L202.0,304.0 L202.5,304.0 L203.0,304.0 L203.5,304.0 L204.0,304.0 L204.5,304.0 L205.0,304.0 L205.5,304.0 L206.0,303.9 L206.5,303.9 L207.0,303.9 L207.5,303.9 L208.0,303.9 L208.5,303.9 L209.0,303.9 L209.5,303.9 L210.0,303.9 L210.5,303.9 L211.0,303.9 L211.5,303.9 L212.0,303.9 L212.5,303.9 L213.0,303.9 L213.5,303.9 L214.0,303.9 L214.5,303.9 L215.0,303.9 L215.5,303.9 L216.0,303.9 L216.5,303.9 L217.0,303.9 L217.5,303.9 L218.0,303.9 L218.5,303.9 L219.0,303.9 L219.5,303.9 L220.0,303.9 L220.5,303.9 L221.0,303.9 L221.5,303.9 L222.0,303.9 L222.5,303.9 L223.0,303.9 L223.5,303.9 L224.0,303.9 L224.5,303.9 L225.0,303.9 L225.5,303.9 L226.0,303.9 L226.5,303.9 L227.0,303.9 L227.5,303.9 L228.0,303.9 L228.5,303.9 L229.0,303.9 L229.5,303.9 L230.0,303.9 L230.5,303.9 L231.0,303.9 L231.5,303.9 L232.0,303.9 L232.5,303.9 L233.0,303.9 L233.5,303.9 L234.0,303.9 L234.5,303.9 L235.0,303.9 L235.5,303.9 L236.0,303.9 L236.5,303.9 L237.0,303.9 L237.5,303.9 L238.0,303.9 L238.5,303.9 L239.0,303.9 L239.5,303.9" stroke="#0535ff" stroke-width="2.1" fill="none" stroke-linejoin="round" stroke-linecap="round"/></g>
<g clip-path="url(#c1)"><path d="M299.5,63.3 L300.0,63.3 L300.5,63.3 L301.0,63.3 L301.5,63.3 L302.0,63.3 L302.5,63.3 L303.0,63.3 L303.5,63.3 L304.0,63.3 L304.5,63.3 L305.0,63.3 L305.5,63.3 L306.0,63.3 L306.5,63.3 L307.0,63.3 L307.5,63.3 L308.0,63.3 L308.5,63.3 L309.0,63.3 L309.5,63.3 L310.0,63.3 L310.5,63.3 L311.0,63.3 L311.5,63.3 L312.0,63.3 L312.5,63.3 L313.0,63.3 L313.5,63.3 L314.0,63.3 L314.5,63.3 L315.0,63.3 L315.5,63.3 L316.0,63.3 L316.5,63.3 L317.0,63.3 L317.5,63.3 L318.0,63.3 L318.5,63.3 L319.0,63.3 L319.5,63.3 L320.0,63.3 L320.5,63.3 L321.0,63.3 L321.5,63.3 L322.0,63.3 L322.5,63.3 L323.0,63.3 L323.5,63.3 L324.0,63.3 L324.5,63.3 L325.0,63.3 L325.5,63.3 L326.0,63.3 L326.5,63.3 L327.0,63.3 L327.5,63.3 L328.0,63.3 L328.5,63.3 L329.0,63.3 L329.5,63.3 L330.0,63.3 L330.5,63.3 L331.0,63.3 L331.5,63.3 L332.0,63.3 L332.5,63.3 L333.0,63.3 L333.5,63.3 L334.0,63.3 L334.5,63.3 L335.0,63.3 L335.5,63.3 L336.0,63.3 L336.5,63.3 L337.0,63.3 L337.5,63.3 L338.0,63.3 L338.5,63.3 L339.0,63.3 L339.5,63.3 L340.0,63.3 L340.5,63.3 L341.0,63.3 L341.5,63.3 L342.0,63.3 L342.5,63.3 L343.0,63.3 L343.5,63.3 L344.0,63.3 L344.5,63.3 L345.0,63.3 L345.5,63.3 L346.0,63.3 L346.5,63.3 L347.0,63.3 L347.5,63.3 L348.0,63.3 L348.5,63.3 L349.0,63.3 L349.5,63.3 L350.0,63.3 L350.5,63.3 L351.0,63.3 L351.5,63.3 L352.0,63.3 L352.5,63.3 L353.0,63.3 L353.5,63.3 L354.0,63.3 L354.5,63.3 L355.0,63.3 L355.5,63.3 L356.0,63.3 L356.5,63.3 L357.0,63.3 L357.5,63.3 L358.0,63.3 L358.5,63.3 L359.0,63.3 L359.5,63.3 L360.0,63.3 L360.5,63.3 L361.0,63.3 L361.5,63.3 L362.0,63.3 L362.5,63.3 L363.0,63.3 L363.5,63.3 L364.0,63.3 L364.5,63.3 L365.0,63.3 L365.5,63.3 L366.0,63.3 L366.5,63.3 L367.0,63.3 L367.5,63.3 L368.0,63.3 L368.5,63.3 L369.0,63.3 L369.5,63.3 L370.0,63.3 L370.5,63.3 L371.0,63.3 L371.5,63.3 L372.0,63.3 L372.5,63.3 L373.0,63.3 L373.5,63.3 L374.0,63.3 L374.5,63.3 L375.0,63.3 L375.5,63.3 L376.0,63.3 L376.5,63.3 L377.0,63.3 L377.5,63.3 L378.0,63.3 L378.5,63.3 L379.0,63.3 L379.5,63.3 L380.0,63.3 L380.5,63.3 L381.0,63.3 L381.5,63.3 L382.0,63.3 L382.5,63.3 L383.0,63.3 L383.5,63.3 L384.0,63.3 L384.5,63.3 L385.0,63.3 L385.5,63.3 L386.0,63.3 L386.5,63.3 L387.0,63.3 L387.5,63.3 L388.0,63.3 L388.5,63.3 L389.0,63.3 L389.5,63.3 L390.0,63.3 L390.5,63.3 L391.0,63.3 L391.5,63.3 L392.0,63.3 L392.5,63.3 L393.0,63.3 L393.5,63.3 L394.0,63.3 L394.5,63.3 L395.0,63.3 L395.5,63.3 L396.0,63.3 L396.5,63.3 L397.0,63.3 L397.5,63.3 L398.0,63.3 L398.5,63.3 L399.0,63.3 L399.5,63.3 L400.0,63.3 L400.5,63.3 L401.0,63.3 L401.5,63.3 L402.0,63.3 L402.5,63.3 L403.0,63.3 L403.5,63.3 L404.0,63.3 L404.5,63.3 L405.0,63.3 L405.5,63.3 L406.0,63.3 L406.5,63.3 L407.0,63.3 L407.5,63.3 L408.0,63.3 L408.5,63.3 L409.0,63.3 L409.5,63.3 L410.0,63.3 L410.5,63.3 L411.0,63.3 L411.5,63.3 L412.0,63.3 L412.5,63.3 L413.0,63.3 L413.5,63.3 L414.0,63.3 L414.5,63.3 L415.0,63.3 L415.5,63.3 L416.0,63.3 L416.5,63.3 L417.0,63.3 L417.5,63.3 L418.0,63.3 L418.5,63.3 L419.0,63.3 L419.5,63.3 L420.0,63.3 L420.5,63.3 L421.0,63.3 L421.5,63.3 L422.0,63.3 L422.5,63.3 L423.0,63.3 L423.5,63.3 L424.0,63.3 L424.5,63.3 L425.0,63.3 L425.5,63.3 L426.0,63.3 L426.5,63.3 L427.0,63.3 L427.5,63.3 L428.0,63.3 L428.5,63.3 L429.0,63.3 L429.5,63.3 L430.0,63.3 L430.5,63.3 L431.0,63.3 L431.5,63.3 L432.0,63.3 L432.5,63.3 L433.0,63.3 L433.5,63.3 L434.0,63.3 L434.5,63.3 L435.0,63.3 L435.5,63.3 L436.0,63.3 L436.5,63.3 L437.0,63.3 L437.5,63.3 L438.0,63.3 L438.5,63.3 L439.0,63.3 L439.5,63.3 L440.0,63.3 L440.5,63.3 L441.0,63.3 L441.5,63.3 L442.0,63.3 L442.5,63.3 L443.0,63.3 L443.5,63.3 L444.0,63.3 L444.5,63.3 L445.0,63.3 L445.5,63.3 L446.0,63.3 L446.5,63.3 L447.0,63.3 L447.5,63.3 L448.0,63.3 L448.5,63.3 L449.0,63.3 L449.5,63.3 L450.0,63.3 L450.5,63.3 L451.0,63.3 L451.5,63.3 L452.0,63.3 L452.5,63.3 L453.0,63.3 L453.5,63.3 L454.0,63.3 L454.5,63.3 L455.0,63.3 L455.5,63.3 L456.0,63.3 L456.5,63.3 L457.0,63.3 L457.5,63.3 L458.0,63.3 L458.5,63.3 L459.0,63.3 L459.5,63.3 L460.0,63.3 L460.5,63.3 L461.0,63.3 L461.5,63.3 L462.0,63.3 L462.5,63.3 L463.0,63.3 L463.5,63.3 L464.0,63.3 L464.5,63.3 L465.0,63.3 L465.5,63.3 L466.0,63.3 L466.5,63.3 L467.0,63.3 L467.5,63.3 L468.0,63.3 L468.5,63.3 L469.0,63.3 L469.5,63.3 L470.0,63.3 L470.5,63.3 L471.0,63.3 L471.5,63.3 L472.0,63.3 L472.5,63.3 L473.0,63.3 L473.5,63.3 L474.0,63.3 L474.5,63.3 L475.0,63.3 L475.5,63.3 L476.0,63.3 L476.5,63.3 L477.0,63.3 L477.5,63.3 L478.0,63.3 L478.5,63.3 L479.0,63.3 L479.5,63.3 L480.0,63.3 L480.5,63.3 L481.0,63.3 L481.5,63.3 L482.0,63.3 L482.5,63.3 L483.0,63.3 L483.5,63.3 L484.0,63.3 L484.5,63.3 L485.0,63.3 L485.5,63.3 L486.0,63.3 L486.5,63.3 L487.0,63.3 L487.5,63.3 L488.0,63.3 L488.5,63.3 L489.0,63.3 L489.5,63.3" stroke="#ff00ff" stroke-width="2.0" fill="none" stroke-linejoin="round" stroke-linecap="round"/><path d="M299.5,63.0 L300.0,62.8 L300.5,62.7 L301.0,62.5 L301.5,62.4 L302.0,62.4 L302.5,62.4 L303.0,62.4 L303.5,62.4 L304.0,62.4 L304.5,62.4 L305.0,62.4 L305.5,62.4 L306.0,62.4 L306.5,62.4 L307.0,62.4 L307.5,62.4 L308.0,62.5 L308.5,62.5 L309.0,62.5 L309.5,62.6 L310.0,62.6 L310.5,62.7 L311.0,62.7 L311.5,62.7 L312.0,62.7 L312.5,62.7 L313.0,62.7 L313.5,62.7 L314.0,62.6 L314.5,62.6 L315.0,62.6 L315.5,62.6 L316.0,62.6 L316.5,62.5 L317.0,62.5 L317.5,62.5 L318.0,62.5 L318.5,62.5 L319.0,62.5 L319.5,62.5 L320.0,62.5 L320.5,62.5 L321.0,62.5 L321.5,62.5 L322.0,62.5 L322.5,62.6 L323.0,62.6 L323.5,62.6 L324.0,62.6 L324.5,62.6 L325.0,62.6 L325.5,62.6 L326.0,62.6 L326.5,62.7 L327.0,62.7 L327.5,62.7 L328.0,62.7 L328.5,62.7 L329.0,62.7 L329.5,62.7 L330.0,62.7 L330.5,62.7 L331.0,62.7 L331.5,62.7 L332.0,62.7 L332.5,62.7 L333.0,62.7 L333.5,62.7 L334.0,62.7 L334.5,62.7 L335.0,62.7 L335.5,62.7 L336.0,62.7 L336.5,62.7 L337.0,62.7 L337.5,62.7 L338.0,62.7 L338.5,62.7 L339.0,62.7 L339.5,62.7 L340.0,62.7 L340.5,62.7 L341.0,62.7 L341.5,62.7 L342.0,62.7 L342.5,62.8 L343.0,62.8 L343.5,62.8 L344.0,62.8 L344.5,62.8 L345.0,62.8 L345.5,62.8 L346.0,62.8 L346.5,62.8 L347.0,62.8 L347.5,62.8 L348.0,62.8 L348.5,62.8 L349.0,62.8 L349.5,62.8 L350.0,62.8 L350.5,62.8 L351.0,62.8 L351.5,62.8 L352.0,62.8 L352.5,62.8 L353.0,62.8 L353.5,62.8 L354.0,62.8 L354.5,62.8 L355.0,62.8 L355.5,62.8 L356.0,62.8 L356.5,62.8 L357.0,62.8 L357.5,62.8 L358.0,62.8 L358.5,62.8 L359.0,62.8 L359.5,62.8 L360.0,62.8 L360.5,62.8 L361.0,62.8 L361.5,62.8 L362.0,62.8 L362.5,62.8 L363.0,62.8 L363.5,62.8 L364.0,62.8 L364.5,62.8 L365.0,62.8 L365.5,62.8 L366.0,62.8 L366.5,62.8 L367.0,62.8 L367.5,62.8 L368.0,62.8 L368.5,62.8 L369.0,62.8 L369.5,62.8 L370.0,62.8 L370.5,62.8 L371.0,62.8 L371.5,62.8 L372.0,62.9 L372.5,62.9 L373.0,62.9 L373.5,62.9 L374.0,62.9 L374.5,62.9 L375.0,62.9 L375.5,62.9 L376.0,62.9 L376.5,62.9 L377.0,62.9 L377.5,62.9 L378.0,62.9 L378.5,62.9 L379.0,62.9 L379.5,62.9 L380.0,62.9 L380.5,62.9 L381.0,62.9 L381.5,62.9 L382.0,62.9 L382.5,62.9 L383.0,62.9 L383.5,62.9 L384.0,62.9 L384.5,62.9 L385.0,62.9 L385.5,62.9 L386.0,62.9 L386.5,62.9 L387.0,62.9 L387.5,62.9 L388.0,62.9 L388.5,62.9 L389.0,62.9 L389.5,62.9 L390.0,62.9 L390.5,62.9 L391.0,62.9 L391.5,62.9 L392.0,62.9 L392.5,62.9 L393.0,62.9 L393.5,62.9 L394.0,62.9 L394.5,62.9 L395.0,62.9 L395.5,62.9 L396.0,62.9 L396.5,62.9 L397.0,62.9 L397.5,62.9 L398.0,62.9 L398.5,62.9 L399.0,62.9 L399.5,62.9 L400.0,62.9 L400.5,62.9 L401.0,62.9 L401.5,62.9 L402.0,62.9 L402.5,62.9 L403.0,62.9 L403.5,62.9 L404.0,62.9 L404.5,62.9 L405.0,62.9 L405.5,62.9 L406.0,62.9 L406.5,62.9 L407.0,62.9 L407.5,62.9 L408.0,62.9 L408.5,62.9 L409.0,62.9 L409.5,62.9 L410.0,62.9 L410.5,62.9 L411.0,62.9 L411.5,62.9 L412.0,62.9 L412.5,62.9 L413.0,62.9 L413.5,62.9 L414.0,62.9 L414.5,62.9 L415.0,62.9 L415.5,62.9 L416.0,62.9 L416.5,62.9 L417.0,62.9 L417.5,62.9 L418.0,63.0 L418.5,63.0 L419.0,63.0 L419.5,63.0 L420.0,63.0 L420.5,63.0 L421.0,63.0 L421.5,63.0 L422.0,63.0 L422.5,63.0 L423.0,63.0 L423.5,63.0 L424.0,63.0 L424.5,63.0 L425.0,63.0 L425.5,63.0 L426.0,63.0 L426.5,63.0 L427.0,63.0 L427.5,63.0 L428.0,63.0 L428.5,63.0 L429.0,63.0 L429.5,63.0 L430.0,63.0 L430.5,63.0 L431.0,63.0 L431.5,63.0 L432.0,63.0 L432.5,63.0 L433.0,63.0 L433.5,63.0 L434.0,63.0 L434.5,63.0 L435.0,63.0 L435.5,63.0 L436.0,63.0 L436.5,63.0 L437.0,63.0 L437.5,63.0 L438.0,63.0 L438.5,63.0 L439.0,63.0 L439.5,63.0 L440.0,63.0 L440.5,63.0 L441.0,63.0 L441.5,63.0 L442.0,63.0 L442.5,63.0 L443.0,63.0 L443.5,63.0 L444.0,63.0 L444.5,63.0 L445.0,63.0 L445.5,63.0 L446.0,63.0 L446.5,63.0 L447.0,63.0 L447.5,63.0 L448.0,63.0 L448.5,63.0 L449.0,63.0 L449.5,63.0 L450.0,63.0 L450.5,63.0 L451.0,63.0 L451.5,63.0 L452.0,63.0 L452.5,63.0 L453.0,63.0 L453.5,63.0 L454.0,63.0 L454.5,63.0 L455.0,63.0 L455.5,63.0 L456.0,63.0 L456.5,63.0 L457.0,63.0 L457.5,63.0 L458.0,63.0 L458.5,63.0 L459.0,63.0 L459.5,63.0 L460.0,63.0 L460.5,63.0 L461.0,63.0 L461.5,63.0 L462.0,63.0 L462.5,63.0 L463.0,63.0 L463.5,63.0 L464.0,63.0 L464.5,63.0 L465.0,63.0 L465.5,63.0 L466.0,63.0 L466.5,63.0 L467.0,63.0 L467.5,63.0 L468.0,63.0 L468.5,63.0 L469.0,63.0 L469.5,63.0 L470.0,63.0 L470.5,63.0 L471.0,63.0 L471.5,63.0 L472.0,63.0 L472.5,63.0 L473.0,63.0 L473.5,63.0 L474.0,63.0 L474.5,63.0 L475.0,63.0 L475.5,63.0 L476.0,63.0 L476.5,63.0 L477.0,63.0 L477.5,63.0 L478.0,63.0 L478.5,63.0 L479.0,63.0 L479.5,63.0 L480.0,63.0 L480.5,63.0 L481.0,63.0 L481.5,63.0 L482.0,63.0 L482.5,63.0 L483.0,63.0 L483.5,63.0 L484.0,63.0 L484.5,63.0 L485.0,63.0 L485.5,63.0 L486.0,63.0 L486.5,63.0 L487.0,63.0 L487.5,63.0 L488.0,63.0 L488.5,63.0 L489.0,63.0 L489.5,63.0" stroke="#0535ff" stroke-width="2.1" fill="none" stroke-linejoin="round" stroke-linecap="round"/><path d="M299.5,63.0 L300.0,68.1 L300.2,70.0 L300.5,72.5 L301.0,77.0 L301.5,85.2 L301.7,88.0 L302.0,91.2 L302.5,95.0 L302.6,95.5 L303.0,96.9 L303.5,98.3 L304.0,98.8 L304.5,97.3 L305.0,94.0 L305.5,88.2 L305.6,87.0 L306.0,82.5 L306.2,81.0 L306.5,79.9 L307.0,78.6 L307.5,77.5 L308.0,76.5 L308.5,75.6 L309.0,74.6 L309.5,73.5 L310.0,72.4 L310.5,71.2 L311.0,70.1 L311.5,69.0 L312.0,67.9 L312.5,67.0 L312.6,66.8 L313.0,66.1 L313.5,65.3 L314.0,64.5 L314.5,63.8 L315.0,63.1 L315.5,62.6 L315.8,62.3 L316.0,62.1 L316.5,61.8 L317.0,61.4 L317.5,61.2 L318.0,61.0 L318.5,60.8 L319.0,60.7 L319.5,60.6 L320.0,60.5 L320.5,60.4 L321.0,60.4 L321.5,60.3 L322.0,60.3 L322.2,60.3 L322.5,60.3 L323.0,60.4 L323.5,60.4 L324.0,60.5 L324.5,60.7 L325.0,60.8 L325.5,60.9 L326.0,61.0 L326.5,61.1 L327.0,61.2 L327.5,61.3 L328.0,61.4 L328.5,61.5 L329.0,61.6 L329.5,61.7 L330.0,61.7 L330.5,61.7 L331.0,61.7 L331.5,61.8 L332.0,61.8 L332.5,61.8 L333.0,61.8 L333.5,61.8 L334.0,61.8 L334.5,61.9 L335.0,61.9 L335.5,61.9 L336.0,61.9 L336.5,61.9 L336.7,61.9 L337.0,61.9 L337.5,61.9 L338.0,61.9 L338.5,61.9 L339.0,61.9 L339.5,62.0 L340.0,62.0 L340.5,62.0 L341.0,62.0 L341.5,62.0 L342.0,62.0 L342.5,62.0 L343.0,62.0 L343.5,62.0 L344.0,62.0 L344.5,62.0 L345.0,62.0 L345.5,62.0 L346.0,62.0 L346.5,62.0 L347.0,62.0 L347.5,62.0 L348.0,62.0 L348.5,62.0 L349.0,62.0 L349.5,62.0 L350.0,61.9 L350.5,61.7 L351.0,61.5 L351.5,61.3 L352.0,60.6 L352.5,59.3 L353.0,58.2 L353.1,58.0 L353.5,57.4 L354.0,56.7 L354.5,56.1 L355.0,55.6 L355.5,55.2 L355.8,55.0 L356.0,54.9 L356.5,54.6 L357.0,54.4 L357.5,54.2 L358.0,54.0 L358.5,53.8 L359.0,53.7 L359.5,53.6 L360.0,53.6 L360.5,53.6 L361.0,53.8 L361.5,53.9 L362.0,54.1 L362.5,54.4 L363.0,54.6 L363.5,54.9 L364.0,55.1 L364.5,55.3 L365.0,55.6 L365.5,55.9 L366.0,56.2 L366.5,56.5 L367.0,56.7 L367.5,57.0 L368.0,57.2 L368.5,57.4 L369.0,57.6 L369.5,57.7 L370.0,57.9 L370.5,58.0 L371.0,58.2 L371.5,58.3 L372.0,58.5 L372.5,58.7 L373.0,58.8 L373.5,59.0 L374.0,59.1 L374.5,59.3 L375.0,59.4 L375.5,59.6 L376.0,59.7 L376.5,59.8 L377.0,59.9 L377.5,60.1 L378.0,60.2 L378.5,60.3 L379.0,60.4 L379.5,60.4 L380.0,60.5 L380.5,60.6 L381.0,60.6 L381.5,60.6 L382.0,60.7 L382.5,60.7 L383.0,60.8 L383.5,60.8 L384.0,60.8 L384.5,60.8 L385.0,60.9 L385.5,60.9 L386.0,60.9 L386.5,60.9 L387.0,60.9 L387.5,60.9 L388.0,61.0 L388.5,61.0 L389.0,61.0 L389.5,61.0 L390.0,61.0 L390.5,61.0 L391.0,61.0 L391.5,61.0 L392.0,61.0 L392.5,61.1 L393.0,61.1 L393.5,61.1 L394.0,61.1 L394.5,61.1 L395.0,61.1 L395.5,61.1 L396.0,61.1 L396.5,61.1 L397.0,61.1 L397.5,61.1 L398.0,61.2 L398.5,61.2 L399.0,61.2 L399.5,61.2 L400.0,61.2 L400.5,61.2 L401.0,61.2 L401.5,61.2 L402.0,61.3 L402.5,61.3 L403.0,61.3 L403.5,61.3 L404.0,61.3 L404.5,61.3 L405.0,61.3 L405.5,61.3 L406.0,61.4 L406.5,61.4 L407.0,61.4 L407.5,61.4 L408.0,61.4 L408.5,61.4 L409.0,61.5 L409.5,61.5 L410.0,61.5 L410.5,61.5 L411.0,61.5 L411.5,61.5 L412.0,61.5 L412.5,61.6 L413.0,61.6 L413.5,61.6 L414.0,61.6 L414.5,61.6 L415.0,61.6 L415.5,61.7 L416.0,61.7 L416.5,61.7 L417.0,61.7 L417.5,61.7 L418.0,61.7 L418.5,61.8 L419.0,61.8 L419.5,61.8 L420.0,61.8 L420.5,61.8 L421.0,61.8 L421.5,61.8 L422.0,61.9 L422.5,61.9 L423.0,61.9 L423.5,61.9 L424.0,61.9 L424.5,61.9 L425.0,62.0 L425.5,62.0 L426.0,62.0 L426.5,62.0 L427.0,62.0 L427.5,62.0 L428.0,62.1 L428.5,62.1 L429.0,62.1 L429.5,62.1 L430.0,62.1 L430.5,62.1 L431.0,62.1 L431.5,62.2 L432.0,62.2 L432.5,62.2 L433.0,62.2 L433.5,62.2 L434.0,62.2 L434.5,62.3 L435.0,62.3 L435.5,62.3 L436.0,62.3 L436.5,62.3 L437.0,62.3 L437.5,62.3 L438.0,62.3 L438.5,62.4 L439.0,62.4 L439.5,62.4 L440.0,62.4 L440.5,62.4 L441.0,62.4 L441.5,62.4 L442.0,62.4 L442.5,62.5 L443.0,62.5 L443.5,62.5 L444.0,62.5 L444.5,62.5 L445.0,62.5 L445.5,62.5 L446.0,62.5 L446.5,62.6 L447.0,62.6 L447.5,62.6 L448.0,62.6 L448.5,62.6 L449.0,62.6 L449.5,62.6 L450.0,62.6 L450.5,62.7 L451.0,62.7 L451.5,62.7 L452.0,62.7 L452.5,62.7 L453.0,62.7 L453.5,62.7 L454.0,62.7 L454.5,62.7 L455.0,62.7 L455.5,62.8 L456.0,62.8 L456.5,62.8 L457.0,62.8 L457.5,62.8 L458.0,62.8 L458.5,62.8 L459.0,62.8 L459.5,62.8 L460.0,62.8 L460.5,62.8 L461.0,62.8 L461.5,62.8 L462.0,62.8 L462.5,62.8 L463.0,62.8 L463.5,62.8 L464.0,62.8 L464.5,62.8 L465.0,62.8 L465.5,62.8 L466.0,62.8 L466.5,62.8 L467.0,62.8 L467.5,62.8 L468.0,62.8 L468.5,62.8 L469.0,62.8 L469.5,62.9 L470.0,62.9 L470.5,62.9 L471.0,62.9 L471.5,62.9 L472.0,62.9 L472.5,62.9 L473.0,62.9 L473.5,62.9 L474.0,62.9 L474.5,62.9 L475.0,62.9 L475.5,62.9 L476.0,62.9 L476.5,62.9 L477.0,62.9 L477.5,62.9 L478.0,62.9 L478.5,62.9 L479.0,62.9 L479.5,62.9 L480.0,62.9 L480.5,62.9 L481.0,62.9 L481.5,62.9 L482.0,62.9 L482.5,62.9 L483.0,62.9 L483.5,62.9 L484.0,62.9 L484.5,62.9 L485.0,62.9 L485.5,62.9 L486.0,62.9 L486.5,62.9 L487.0,62.9 L487.5,62.9 L488.0,62.9 L488.5,62.9 L489.0,62.9 L489.5,62.9" stroke="#00ffff" stroke-width="2.3" fill="none" stroke-linejoin="round" stroke-linecap="round"/></g>
<g clip-path="url(#c3)"><path d="M299.5,168.1 L300.0,168.1 L300.5,168.1 L301.0,168.1 L301.5,168.1 L302.0,168.1 L302.5,168.1 L303.0,168.1 L303.5,168.1 L304.0,168.1 L304.5,168.1 L305.0,168.1 L305.5,168.1 L306.0,168.1 L306.5,168.1 L307.0,168.1 L307.5,168.1 L308.0,168.1 L308.5,168.1 L309.0,168.1 L309.5,168.1 L310.0,168.1 L310.5,168.1 L311.0,168.1 L311.5,168.1 L312.0,168.1 L312.5,168.1 L313.0,168.1 L313.5,168.1 L314.0,168.1 L314.5,168.1 L315.0,168.1 L315.5,168.1 L316.0,168.1 L316.5,168.1 L317.0,168.1 L317.5,168.1 L318.0,168.1 L318.5,168.1 L319.0,168.1 L319.5,168.1 L320.0,168.1 L320.5,168.1 L321.0,168.1 L321.5,168.1 L322.0,168.1 L322.5,168.1 L323.0,168.1 L323.5,168.1 L324.0,168.1 L324.5,168.1 L325.0,168.1 L325.5,168.1 L326.0,168.1 L326.5,168.1 L327.0,168.1 L327.5,168.1 L328.0,168.1 L328.5,168.1 L329.0,168.1 L329.5,168.1 L330.0,168.1 L330.5,168.1 L331.0,168.1 L331.5,168.1 L332.0,168.1 L332.5,168.1 L333.0,168.1 L333.5,168.1 L334.0,168.1 L334.5,168.1 L335.0,168.1 L335.5,168.1 L336.0,168.1 L336.5,168.1 L337.0,168.1 L337.5,168.1 L338.0,168.1 L338.5,168.1 L339.0,168.1 L339.5,168.1 L340.0,168.1 L340.5,168.1 L341.0,168.1 L341.5,168.1 L342.0,168.1 L342.5,168.1 L343.0,168.1 L343.5,168.1 L344.0,168.1 L344.5,168.1 L345.0,168.1 L345.5,168.1 L346.0,168.1 L346.5,168.1 L347.0,168.1 L347.5,168.1 L348.0,168.1 L348.5,168.1 L349.0,168.1 L349.5,168.1 L350.0,168.1 L350.5,168.1 L351.0,168.1 L351.5,168.1 L352.0,168.1 L352.5,168.1 L353.0,168.1 L353.5,168.1 L354.0,168.1 L354.5,168.1 L355.0,168.1 L355.5,168.1 L356.0,168.1 L356.5,168.1 L357.0,168.1 L357.5,168.1 L358.0,168.1 L358.5,168.1 L359.0,168.1 L359.5,168.1 L360.0,168.1 L360.5,168.1 L361.0,168.1 L361.5,168.1 L362.0,168.1 L362.5,168.1 L363.0,168.1 L363.5,168.1 L364.0,168.1 L364.5,168.1 L365.0,168.1 L365.5,168.1 L366.0,168.1 L366.5,168.1 L367.0,168.1 L367.5,168.1 L368.0,168.1 L368.5,168.1 L369.0,168.1 L369.5,168.1 L370.0,168.1 L370.5,168.1 L371.0,168.1 L371.5,168.1 L372.0,168.1 L372.5,168.1 L373.0,168.1 L373.5,168.1 L374.0,168.1 L374.5,168.1 L375.0,168.1 L375.5,168.1 L376.0,168.1 L376.5,168.1 L377.0,168.1 L377.5,168.1 L378.0,168.1 L378.5,168.1 L379.0,168.1 L379.5,168.1 L380.0,168.1 L380.5,168.1 L381.0,168.1 L381.5,168.1 L382.0,168.1 L382.5,168.1 L383.0,168.1 L383.5,168.1 L384.0,168.1 L384.5,168.1 L385.0,168.1 L385.5,168.1 L386.0,168.1 L386.5,168.1 L387.0,168.1 L387.5,168.1 L388.0,168.1 L388.5,168.1 L389.0,168.1 L389.5,168.1 L390.0,168.1 L390.5,168.1 L391.0,168.1 L391.5,168.1 L392.0,168.1 L392.5,168.1 L393.0,168.1 L393.5,168.1 L394.0,168.1 L394.5,168.1 L395.0,168.1 L395.5,168.1 L396.0,168.1 L396.5,168.1 L397.0,168.1 L397.5,168.1 L398.0,168.1 L398.5,168.1 L399.0,168.1 L399.5,168.1 L400.0,168.1 L400.5,168.1 L401.0,168.1 L401.5,168.1 L402.0,168.1 L402.5,168.1 L403.0,168.1 L403.5,168.1 L404.0,168.1 L404.5,168.1 L405.0,168.1 L405.5,168.1 L406.0,168.1 L406.5,168.1 L407.0,168.1 L407.5,168.1 L408.0,168.1 L408.5,168.1 L409.0,168.1 L409.5,168.1 L410.0,168.1 L410.5,168.1 L411.0,168.1 L411.5,168.1 L412.0,168.1 L412.5,168.1 L413.0,168.1 L413.5,168.1 L414.0,168.1 L414.5,168.1 L415.0,168.1 L415.5,168.1 L416.0,168.1 L416.5,168.1 L417.0,168.1 L417.5,168.1 L418.0,168.1 L418.5,168.1 L419.0,168.1 L419.5,168.1 L420.0,168.1 L420.5,168.1 L421.0,168.1 L421.5,168.1 L422.0,168.1 L422.5,168.1 L423.0,168.1 L423.5,168.1 L424.0,168.1 L424.5,168.1 L425.0,168.1 L425.5,168.1 L426.0,168.1 L426.5,168.1 L427.0,168.1 L427.5,168.1 L428.0,168.1 L428.5,168.1 L429.0,168.1 L429.5,168.1 L430.0,168.1 L430.5,168.1 L431.0,168.1 L431.5,168.1 L432.0,168.1 L432.5,168.1 L433.0,168.1 L433.5,168.1 L434.0,168.1 L434.5,168.1 L435.0,168.1 L435.5,168.1 L436.0,168.1 L436.5,168.1 L437.0,168.1 L437.5,168.1 L438.0,168.1 L438.5,168.1 L439.0,168.1 L439.5,168.1 L440.0,168.1 L440.5,168.1 L441.0,168.1 L441.5,168.1 L442.0,168.1 L442.5,168.1 L443.0,168.1 L443.5,168.1 L444.0,168.1 L444.5,168.1 L445.0,168.1 L445.5,168.1 L446.0,168.1 L446.5,168.1 L447.0,168.1 L447.5,168.1 L448.0,168.1 L448.5,168.1 L449.0,168.1 L449.5,168.1 L450.0,168.1 L450.5,168.1 L451.0,168.1 L451.5,168.1 L452.0,168.1 L452.5,168.1 L453.0,168.1 L453.5,168.1 L454.0,168.1 L454.5,168.1 L455.0,168.1 L455.5,168.1 L456.0,168.1 L456.5,168.1 L457.0,168.1 L457.5,168.1 L458.0,168.1 L458.5,168.1 L459.0,168.1 L459.5,168.1 L460.0,168.1 L460.5,168.1 L461.0,168.1 L461.5,168.1 L462.0,168.1 L462.5,168.1 L463.0,168.1 L463.5,168.1 L464.0,168.1 L464.5,168.1 L465.0,168.1 L465.5,168.1 L466.0,168.1 L466.5,168.1 L467.0,168.1 L467.5,168.1 L468.0,168.1 L468.5,168.1 L469.0,168.1 L469.5,168.1 L470.0,168.1 L470.5,168.1 L471.0,168.1 L471.5,168.1 L472.0,168.1 L472.5,168.1 L473.0,168.1 L473.5,168.1 L474.0,168.1 L474.5,168.1 L475.0,168.1 L475.5,168.1 L476.0,168.1 L476.5,168.1 L477.0,168.1 L477.5,168.1 L478.0,168.1 L478.5,168.1 L479.0,168.1 L479.5,168.1 L480.0,168.1 L480.5,168.1 L481.0,168.1 L481.5,168.1 L482.0,168.1 L482.5,168.1 L483.0,168.1 L483.5,168.1 L484.0,168.1 L484.5,168.1 L485.0,168.1 L485.5,168.1 L486.0,168.1 L486.5,168.1 L487.0,168.1 L487.5,168.1 L488.0,168.1 L488.5,168.1 L489.0,168.1 L489.5,168.1" stroke="#ff00ff" stroke-width="2.0" fill="none" stroke-linejoin="round" stroke-linecap="round"/><path d="M299.5,168.0 L300.0,167.9 L300.5,167.7 L301.0,167.6 L301.5,167.5 L302.0,167.4 L302.5,167.3 L303.0,167.2 L303.5,167.1 L304.0,167.1 L304.5,167.0 L305.0,167.0 L305.5,167.0 L306.0,167.0 L306.5,167.0 L307.0,166.9 L307.5,166.9 L308.0,166.9 L308.5,166.9 L309.0,166.9 L309.5,166.9 L310.0,166.9 L310.5,166.9 L311.0,166.9 L311.5,166.9 L312.0,167.0 L312.5,167.0 L313.0,167.0 L313.5,167.1 L314.0,167.1 L314.5,167.2 L315.0,167.2 L315.5,167.3 L316.0,167.3 L316.5,167.4 L317.0,167.5 L317.5,167.7 L318.0,167.8 L318.5,167.9 L319.0,167.9 L319.5,168.0 L320.0,168.0 L320.5,168.0 L321.0,168.0 L321.5,168.0 L322.0,168.0 L322.5,168.0 L323.0,168.0 L323.5,168.0 L324.0,168.0 L324.5,168.0 L325.0,168.0 L325.5,168.0 L326.0,168.0 L326.5,168.0 L327.0,168.0 L327.5,168.0 L328.0,168.0 L328.5,168.0 L329.0,168.0 L329.5,168.0 L330.0,168.0 L330.5,167.9 L331.0,167.9 L331.5,167.9 L332.0,167.9 L332.5,167.9 L333.0,167.9 L333.5,167.9 L334.0,167.9 L334.5,167.9 L335.0,167.9 L335.5,167.9 L336.0,167.9 L336.5,167.9 L337.0,167.9 L337.5,167.8 L338.0,167.8 L338.5,167.8 L339.0,167.8 L339.5,167.7 L340.0,167.7 L340.5,167.7 L341.0,167.7 L341.5,167.6 L342.0,167.6 L342.5,167.6 L343.0,167.5 L343.5,167.5 L344.0,167.4 L344.5,167.3 L345.0,167.3 L345.5,167.2 L346.0,167.1 L346.5,167.0 L347.0,167.0 L347.5,166.9 L348.0,166.8 L348.5,166.8 L349.0,166.7 L349.5,166.7 L350.0,166.7 L350.5,166.7 L351.0,166.7 L351.5,166.7 L352.0,166.7 L352.5,166.7 L353.0,166.6 L353.5,166.6 L354.0,166.6 L354.5,166.6 L355.0,166.6 L355.5,166.6 L356.0,166.6 L356.5,166.6 L357.0,166.6 L357.5,166.6 L358.0,166.6 L358.5,166.6 L359.0,166.6 L359.5,166.6 L360.0,166.6 L360.5,166.7 L361.0,166.7 L361.5,166.7 L362.0,166.7 L362.5,166.8 L363.0,166.8 L363.5,166.8 L364.0,166.9 L364.5,166.9 L365.0,166.9 L365.5,167.0 L366.0,167.0 L366.5,167.0 L367.0,167.1 L367.5,167.1 L368.0,167.2 L368.5,167.2 L369.0,167.3 L369.5,167.3 L370.0,167.4 L370.5,167.4 L371.0,167.5 L371.5,167.5 L372.0,167.5 L372.5,167.5 L373.0,167.5 L373.5,167.5 L374.0,167.5 L374.5,167.6 L375.0,167.6 L375.5,167.6 L376.0,167.6 L376.5,167.6 L377.0,167.6 L377.5,167.6 L378.0,167.6 L378.5,167.6 L379.0,167.6 L379.5,167.6 L380.0,167.6 L380.5,167.7 L381.0,167.7 L381.5,167.7 L382.0,167.7 L382.5,167.7 L383.0,167.7 L383.5,167.7 L384.0,167.7 L384.5,167.7 L385.0,167.7 L385.5,167.7 L386.0,167.7 L386.5,167.7 L387.0,167.7 L387.5,167.7 L388.0,167.7 L388.5,167.7 L389.0,167.7 L389.5,167.8 L390.0,167.8 L390.5,167.8 L391.0,167.8 L391.5,167.8 L392.0,167.8 L392.5,167.8 L393.0,167.8 L393.5,167.8 L394.0,167.8 L394.5,167.8 L395.0,167.8 L395.5,167.8 L396.0,167.8 L396.5,167.8 L397.0,167.8 L397.5,167.8 L398.0,167.8 L398.5,167.8 L399.0,167.8 L399.5,167.8 L400.0,167.8 L400.5,167.8 L401.0,167.8 L401.5,167.8 L402.0,167.8 L402.5,167.8 L403.0,167.8 L403.5,167.8 L404.0,167.8 L404.5,167.8 L405.0,167.8 L405.5,167.8 L406.0,167.8 L406.5,167.8 L407.0,167.8 L407.5,167.8 L408.0,167.8 L408.5,167.8 L409.0,167.8 L409.5,167.8 L410.0,167.8 L410.5,167.8 L411.0,167.8 L411.5,167.8 L412.0,167.8 L412.5,167.8 L413.0,167.8 L413.5,167.8 L414.0,167.8 L414.5,167.8 L415.0,167.8 L415.5,167.8 L416.0,167.8 L416.5,167.8 L417.0,167.8 L417.5,167.8 L418.0,167.8 L418.5,167.8 L419.0,167.8 L419.5,167.8 L420.0,167.8 L420.5,167.8 L421.0,167.8 L421.5,167.8 L422.0,167.8 L422.5,167.8 L423.0,167.8 L423.5,167.8 L424.0,167.8 L424.5,167.8 L425.0,167.8 L425.5,167.9 L426.0,167.9 L426.5,167.9 L427.0,167.9 L427.5,167.9 L428.0,167.9 L428.5,167.9 L429.0,167.9 L429.5,167.9 L430.0,167.9 L430.5,167.9 L431.0,167.9 L431.5,167.9 L432.0,167.9 L432.5,167.9 L433.0,167.9 L433.5,167.9 L434.0,167.9 L434.5,167.9 L435.0,167.9 L435.5,167.9 L436.0,167.9 L436.5,167.9 L437.0,167.9 L437.5,167.9 L438.0,167.9 L438.5,167.9 L439.0,167.9 L439.5,167.9 L440.0,167.9 L440.5,167.9 L441.0,167.9 L441.5,167.9 L442.0,167.9 L442.5,167.9 L443.0,167.9 L443.5,167.9 L444.0,167.9 L444.5,167.9 L445.0,167.9 L445.5,167.9 L446.0,167.9 L446.5,167.9 L447.0,167.9 L447.5,167.9 L448.0,167.9 L448.5,167.9 L449.0,167.9 L449.5,167.9 L450.0,167.9 L450.5,167.9 L451.0,167.9 L451.5,167.9 L452.0,167.9 L452.5,167.9 L453.0,167.9 L453.5,167.9 L454.0,167.9 L454.5,167.9 L455.0,167.9 L455.5,167.9 L456.0,167.9 L456.5,167.9 L457.0,167.9 L457.5,167.9 L458.0,167.9 L458.5,167.9 L459.0,167.9 L459.5,167.9 L460.0,167.9 L460.5,167.9 L461.0,167.9 L461.5,167.9 L462.0,167.9 L462.5,167.9 L463.0,167.9 L463.5,167.9 L464.0,167.9 L464.5,167.9 L465.0,167.9 L465.5,167.9 L466.0,167.9 L466.5,167.9 L467.0,167.9 L467.5,167.9 L468.0,167.9 L468.5,167.9 L469.0,167.9 L469.5,167.9 L470.0,167.9 L470.5,167.9 L471.0,167.9 L471.5,167.9 L472.0,167.9 L472.5,167.9 L473.0,167.9 L473.5,167.9 L474.0,167.9 L474.5,167.9 L475.0,167.9 L475.5,167.9 L476.0,167.9 L476.5,167.9 L477.0,167.9 L477.5,167.9 L478.0,167.9 L478.5,167.9 L479.0,167.9 L479.5,167.9 L480.0,167.9 L480.5,167.9 L481.0,167.9 L481.5,167.9 L482.0,167.9 L482.5,167.9 L483.0,167.9 L483.5,167.9 L484.0,167.9 L484.5,167.9 L485.0,167.9 L485.5,167.9 L486.0,167.9 L486.5,167.9 L487.0,167.9 L487.5,167.9 L488.0,167.9 L488.5,167.9 L489.0,167.9 L489.5,167.9" stroke="#0535ff" stroke-width="2.1" fill="none" stroke-linejoin="round" stroke-linecap="round"/><path d="M299.5,167.7 L300.0,172.0 L300.3,180.0 L300.5,182.9 L301.0,188.0 L301.2,190.0 L301.5,193.5 L302.0,199.2 L302.2,201.0 L302.5,203.4 L303.0,207.3 L303.5,209.9 L303.8,210.4 L304.0,210.1 L304.5,207.0 L305.0,202.0 L305.5,191.6 L305.6,190.0 L306.0,185.8 L306.5,182.0 L307.0,179.0 L307.5,176.5 L307.8,175.0 L308.0,174.0 L308.5,171.4 L309.0,169.1 L309.5,167.4 L310.0,166.3 L310.5,165.4 L311.0,164.8 L311.5,164.5 L312.0,164.2 L312.5,164.0 L312.9,164.0 L313.0,164.0 L313.5,164.1 L314.0,164.2 L314.5,164.4 L315.0,164.6 L315.5,164.8 L316.0,164.9 L316.5,165.1 L317.0,165.3 L317.5,165.5 L318.0,165.6 L318.5,165.7 L319.0,165.9 L319.5,166.0 L320.0,166.1 L320.5,166.2 L321.0,166.3 L321.5,166.4 L322.0,166.5 L322.5,166.6 L323.0,166.7 L323.5,166.8 L324.0,166.9 L324.5,166.9 L325.0,167.0 L325.5,167.1 L326.0,167.1 L326.5,167.1 L327.0,167.2 L327.5,167.2 L328.0,167.3 L328.5,167.3 L329.0,167.3 L329.5,167.4 L330.0,167.4 L330.5,167.4 L331.0,167.4 L331.5,167.4 L332.0,167.5 L332.5,167.5 L333.0,167.5 L333.5,167.5 L334.0,167.5 L334.5,167.5 L335.0,167.5 L335.5,167.5 L336.0,167.5 L336.5,167.5 L337.0,167.5 L337.5,167.5 L338.0,167.5 L338.5,167.5 L339.0,167.5 L339.5,167.0 L340.0,166.0 L340.5,164.4 L340.9,163.0 L341.0,162.7 L341.5,161.5 L342.0,160.3 L342.5,159.3 L342.7,159.0 L343.0,158.5 L343.5,157.7 L344.0,157.1 L344.5,156.6 L345.0,156.3 L345.5,156.0 L346.0,155.7 L346.5,155.6 L347.0,155.5 L347.1,155.5 L347.5,155.5 L348.0,155.6 L348.5,155.8 L349.0,155.9 L349.5,156.1 L350.0,156.3 L350.5,156.7 L351.0,157.0 L351.5,157.3 L351.6,157.4 L352.0,157.6 L352.5,157.9 L353.0,158.1 L353.5,158.4 L354.0,158.7 L354.5,158.9 L355.0,159.1 L355.5,159.4 L356.0,159.6 L356.5,159.8 L357.0,160.1 L357.5,160.3 L358.0,160.5 L358.5,160.8 L359.0,161.0 L359.5,161.2 L360.0,161.5 L360.5,161.7 L361.0,161.9 L361.5,162.1 L362.0,162.4 L362.5,162.6 L363.0,162.8 L363.4,162.9 L363.5,162.9 L364.0,163.1 L364.5,163.3 L365.0,163.4 L365.5,163.6 L366.0,163.7 L366.5,163.9 L367.0,164.0 L367.5,164.1 L368.0,164.3 L368.5,164.4 L369.0,164.6 L369.5,164.7 L370.0,164.8 L370.5,164.9 L371.0,165.1 L371.5,165.2 L372.0,165.3 L372.5,165.4 L373.0,165.5 L373.5,165.6 L374.0,165.7 L374.5,165.9 L375.0,165.9 L375.5,166.0 L376.0,166.1 L376.5,166.2 L377.0,166.2 L377.5,166.3 L378.0,166.3 L378.5,166.4 L379.0,166.4 L379.5,166.5 L380.0,166.5 L380.5,166.6 L381.0,166.6 L381.5,166.6 L382.0,166.7 L382.5,166.7 L383.0,166.7 L383.5,166.8 L384.0,166.8 L384.5,166.8 L385.0,166.9 L385.5,166.9 L386.0,166.9 L386.5,166.9 L387.0,166.9 L387.5,167.0 L388.0,167.0 L388.5,167.0 L389.0,167.0 L389.5,167.1 L390.0,167.1 L390.5,167.1 L391.0,167.1 L391.5,167.1 L392.0,167.1 L392.5,167.1 L393.0,167.2 L393.5,167.2 L394.0,167.2 L394.5,167.2 L395.0,167.2 L395.5,167.2 L396.0,167.2 L396.5,167.2 L397.0,167.2 L397.5,167.2 L398.0,167.2 L398.5,167.2 L399.0,167.3 L399.5,167.3 L400.0,167.3 L400.5,167.3 L401.0,167.3 L401.5,167.3 L402.0,167.3 L402.5,167.3 L403.0,167.3 L403.5,167.3 L404.0,167.3 L404.5,167.3 L405.0,167.3 L405.5,167.3 L406.0,167.3 L406.5,167.3 L407.0,167.3 L407.5,167.3 L408.0,167.3 L408.5,167.3 L409.0,167.3 L409.5,167.4 L410.0,167.4 L410.5,167.4 L411.0,167.4 L411.5,167.4 L412.0,167.4 L412.5,167.4 L413.0,167.4 L413.5,167.4 L414.0,167.4 L414.5,167.4 L415.0,167.4 L415.5,167.4 L416.0,167.4 L416.5,167.4 L417.0,167.4 L417.5,167.4 L418.0,167.4 L418.5,167.4 L419.0,167.4 L419.5,167.4 L420.0,167.4 L420.5,167.4 L421.0,167.4 L421.5,167.4 L422.0,167.4 L422.5,167.4 L423.0,167.4 L423.5,167.4 L424.0,167.4 L424.5,167.4 L425.0,167.4 L425.5,167.4 L426.0,167.4 L426.5,167.4 L427.0,167.4 L427.5,167.4 L428.0,167.4 L428.5,167.4 L429.0,167.4 L429.5,167.4 L430.0,167.4 L430.5,167.4 L431.0,167.4 L431.5,167.4 L432.0,167.4 L432.5,167.4 L433.0,167.4 L433.5,167.4 L434.0,167.4 L434.5,167.4 L435.0,167.4 L435.5,167.4 L436.0,167.4 L436.5,167.4 L437.0,167.4 L437.5,167.4 L438.0,167.4 L438.5,167.4 L439.0,167.4 L439.5,167.4 L440.0,167.4 L440.5,167.4 L441.0,167.4 L441.5,167.5 L442.0,167.5 L442.5,167.5 L443.0,167.5 L443.5,167.5 L444.0,167.5 L444.5,167.5 L445.0,167.5 L445.5,167.5 L446.0,167.5 L446.5,167.5 L447.0,167.5 L447.5,167.5 L448.0,167.5 L448.5,167.5 L449.0,167.5 L449.5,167.5 L450.0,167.5 L450.5,167.5 L451.0,167.5 L451.5,167.5 L452.0,167.5 L452.5,167.5 L453.0,167.5 L453.5,167.5 L454.0,167.5 L454.5,167.5 L455.0,167.5 L455.5,167.5 L456.0,167.5 L456.5,167.5 L457.0,167.5 L457.5,167.5 L458.0,167.5 L458.5,167.5 L459.0,167.5 L459.5,167.5 L460.0,167.5 L460.5,167.5 L461.0,167.5 L461.5,167.5 L462.0,167.5 L462.5,167.5 L463.0,167.5 L463.5,167.5 L464.0,167.5 L464.5,167.5 L465.0,167.5 L465.5,167.5 L466.0,167.5 L466.5,167.5 L467.0,167.5 L467.5,167.5 L468.0,167.5 L468.5,167.5 L469.0,167.5 L469.5,167.5 L470.0,167.5 L470.5,167.5 L471.0,167.5 L471.5,167.5 L472.0,167.5 L472.5,167.5 L473.0,167.5 L473.5,167.5 L474.0,167.5 L474.5,167.5 L475.0,167.5 L475.5,167.5 L476.0,167.5 L476.5,167.5 L477.0,167.5 L477.5,167.5 L478.0,167.5 L478.5,167.5 L479.0,167.5 L479.5,167.5 L480.0,167.5 L480.5,167.5 L481.0,167.5 L481.5,167.5 L482.0,167.5 L482.5,167.5 L483.0,167.5 L483.5,167.5 L484.0,167.5 L484.5,167.5 L485.0,167.5 L485.5,167.5 L486.0,167.5 L486.5,167.5 L487.0,167.5 L487.5,167.5 L488.0,167.5 L488.5,167.5 L489.0,167.5 L489.5,167.5" stroke="#00ffff" stroke-width="2.3" fill="none" stroke-linejoin="round" stroke-linecap="round"/></g>
<g clip-path="url(#c5)"><path d="M299.5,304.3 L300.0,304.3 L300.5,304.3 L301.0,304.3 L301.5,304.3 L302.0,304.3 L302.5,304.3 L303.0,304.3 L303.5,304.3 L304.0,304.3 L304.5,304.3 L305.0,304.3 L305.5,304.3 L306.0,304.3 L306.5,304.3 L307.0,304.3 L307.5,304.3 L308.0,304.3 L308.5,304.3 L309.0,304.3 L309.5,304.3 L310.0,304.3 L310.5,304.3 L311.0,304.3 L311.5,304.3 L312.0,304.3 L312.5,304.3 L313.0,304.3 L313.5,304.3 L314.0,304.3 L314.5,304.3 L315.0,304.3 L315.5,304.3 L316.0,304.3 L316.5,304.3 L317.0,304.3 L317.5,304.3 L318.0,304.3 L318.5,304.3 L319.0,304.3 L319.5,304.3 L320.0,304.3 L320.5,304.3 L321.0,304.3 L321.5,304.3 L322.0,304.3 L322.5,304.3 L323.0,304.3 L323.5,304.3 L324.0,304.3 L324.5,304.3 L325.0,304.3 L325.5,304.3 L326.0,304.3 L326.5,304.3 L327.0,304.3 L327.5,304.3 L328.0,304.3 L328.5,304.3 L329.0,304.3 L329.5,304.3 L330.0,304.3 L330.5,304.3 L331.0,304.3 L331.5,304.3 L332.0,304.3 L332.5,304.3 L333.0,304.3 L333.5,304.3 L334.0,304.3 L334.5,304.3 L335.0,304.3 L335.5,304.3 L336.0,304.3 L336.5,304.3 L337.0,304.3 L337.5,304.3 L338.0,304.3 L338.5,304.3 L339.0,304.3 L339.5,304.3 L340.0,304.3 L340.5,304.3 L341.0,304.3 L341.5,304.3 L342.0,304.3 L342.5,304.3 L343.0,304.3 L343.5,304.3 L344.0,304.3 L344.5,304.3 L345.0,304.3 L345.5,304.3 L346.0,304.3 L346.5,304.3 L347.0,304.3 L347.5,304.3 L348.0,304.3 L348.5,304.3 L349.0,304.3 L349.5,304.3 L350.0,304.3 L350.5,304.3 L351.0,304.3 L351.5,304.3 L352.0,304.3 L352.5,304.3 L353.0,304.3 L353.5,304.3 L354.0,304.3 L354.5,304.3 L355.0,304.3 L355.5,304.3 L356.0,304.3 L356.5,304.3 L357.0,304.3 L357.5,304.3 L358.0,304.3 L358.5,304.3 L359.0,304.3 L359.5,304.3 L360.0,304.3 L360.5,304.3 L361.0,304.3 L361.5,304.3 L362.0,304.3 L362.5,304.3 L363.0,304.3 L363.5,304.3 L364.0,304.3 L364.5,304.3 L365.0,304.3 L365.5,304.3 L366.0,304.3 L366.5,304.3 L367.0,304.3 L367.5,304.3 L368.0,304.3 L368.5,304.3 L369.0,304.3 L369.5,304.3 L370.0,304.3 L370.5,304.3 L371.0,304.3 L371.5,304.3 L372.0,304.3 L372.5,304.3 L373.0,304.3 L373.5,304.3 L374.0,304.3 L374.5,304.3 L375.0,304.3 L375.5,304.3 L376.0,304.3 L376.5,304.3 L377.0,304.3 L377.5,304.3 L378.0,304.3 L378.5,304.3 L379.0,304.3 L379.5,304.3 L380.0,304.3 L380.5,304.3 L381.0,304.3 L381.5,304.3 L382.0,304.3 L382.5,304.3 L383.0,304.3 L383.5,304.3 L384.0,304.3 L384.5,304.3 L385.0,304.3 L385.5,304.3 L386.0,304.3 L386.5,304.3 L387.0,304.3 L387.5,304.3 L388.0,304.3 L388.5,304.3 L389.0,304.3 L389.5,304.3 L390.0,304.3 L390.5,304.3 L391.0,304.3 L391.5,304.3 L392.0,304.3 L392.5,304.3 L393.0,304.3 L393.5,304.3 L394.0,304.3 L394.5,304.3 L395.0,304.3 L395.5,304.3 L396.0,304.3 L396.5,304.3 L397.0,304.3 L397.5,304.3 L398.0,304.3 L398.5,304.3 L399.0,304.3 L399.5,304.3 L400.0,304.3 L400.5,304.3 L401.0,304.3 L401.5,304.3 L402.0,304.3 L402.5,304.3 L403.0,304.3 L403.5,304.3 L404.0,304.3 L404.5,304.3 L405.0,304.3 L405.5,304.3 L406.0,304.3 L406.5,304.3 L407.0,304.3 L407.5,304.3 L408.0,304.3 L408.5,304.3 L409.0,304.3 L409.5,304.3 L410.0,304.3 L410.5,304.3 L411.0,304.3 L411.5,304.3 L412.0,304.3 L412.5,304.3 L413.0,304.3 L413.5,304.3 L414.0,304.3 L414.5,304.3 L415.0,304.3 L415.5,304.3 L416.0,304.3 L416.5,304.3 L417.0,304.3 L417.5,304.3 L418.0,304.3 L418.5,304.3 L419.0,304.3 L419.5,304.3 L420.0,304.3 L420.5,304.3 L421.0,304.3 L421.5,304.3 L422.0,304.3 L422.5,304.3 L423.0,304.3 L423.5,304.3 L424.0,304.3 L424.5,304.3 L425.0,304.3 L425.5,304.3 L426.0,304.3 L426.5,304.3 L427.0,304.3 L427.5,304.3 L428.0,304.3 L428.5,304.3 L429.0,304.3 L429.5,304.3 L430.0,304.3 L430.5,304.3 L431.0,304.3 L431.5,304.3 L432.0,304.3 L432.5,304.3 L433.0,304.3 L433.5,304.3 L434.0,304.3 L434.5,304.3 L435.0,304.3 L435.5,304.3 L436.0,304.3 L436.5,304.3 L437.0,304.3 L437.5,304.3 L438.0,304.3 L438.5,304.3 L439.0,304.3 L439.5,304.3 L440.0,304.3 L440.5,304.3 L441.0,304.3 L441.5,304.3 L442.0,304.3 L442.5,304.3 L443.0,304.3 L443.5,304.3 L444.0,304.3 L444.5,304.3 L445.0,304.3 L445.5,304.3 L446.0,304.3 L446.5,304.3 L447.0,304.3 L447.5,304.3 L448.0,304.3 L448.5,304.3 L449.0,304.3 L449.5,304.3 L450.0,304.3 L450.5,304.3 L451.0,304.3 L451.5,304.3 L452.0,304.3 L452.5,304.3 L453.0,304.3 L453.5,304.3 L454.0,304.3 L454.5,304.3 L455.0,304.3 L455.5,304.3 L456.0,304.3 L456.5,304.3 L457.0,304.3 L457.5,304.3 L458.0,304.3 L458.5,304.3 L459.0,304.3 L459.5,304.3 L460.0,304.3 L460.5,304.3 L461.0,304.3 L461.5,304.3 L462.0,304.3 L462.5,304.3 L463.0,304.3 L463.5,304.3 L464.0,304.3 L464.5,304.3 L465.0,304.3 L465.5,304.3 L466.0,304.3 L466.5,304.3 L467.0,304.3 L467.5,304.3 L468.0,304.3 L468.5,304.3 L469.0,304.3 L469.5,304.3 L470.0,304.3 L470.5,304.3 L471.0,304.3 L471.5,304.3 L472.0,304.3 L472.5,304.3 L473.0,304.3 L473.5,304.3 L474.0,304.3 L474.5,304.3 L475.0,304.3 L475.5,304.3 L476.0,304.3 L476.5,304.3 L477.0,304.3 L477.5,304.3 L478.0,304.3 L478.5,304.3 L479.0,304.3 L479.5,304.3 L480.0,304.3 L480.5,304.3 L481.0,304.3 L481.5,304.3 L482.0,304.3 L482.5,304.3 L483.0,304.3 L483.5,304.3 L484.0,304.3 L484.5,304.3 L485.0,304.3 L485.5,304.3 L486.0,304.3 L486.5,304.3 L487.0,304.3 L487.5,304.3 L488.0,304.3 L488.5,304.3 L489.0,304.3 L489.5,304.3" stroke="#ff00ff" stroke-width="2.0" fill="none" stroke-linejoin="round" stroke-linecap="round"/><path d="M299.5,303.5 L300.0,303.5 L300.5,303.5 L301.0,303.5 L301.5,303.5 L302.0,303.5 L302.5,303.5 L303.0,303.5 L303.5,303.5 L304.0,303.5 L304.5,303.5 L305.0,303.5 L305.5,303.5 L306.0,303.5 L306.5,303.5 L307.0,303.5 L307.5,303.5 L308.0,303.5 L308.5,303.5 L309.0,303.5 L309.5,303.5 L310.0,303.5 L310.5,303.5 L311.0,303.5 L311.5,303.5 L312.0,303.5 L312.5,303.5 L313.0,303.5 L313.5,303.5 L314.0,303.5 L314.5,303.5 L315.0,303.5 L315.5,303.5 L316.0,303.5 L316.5,303.5 L317.0,303.5 L317.5,303.5 L318.0,303.5 L318.5,303.5 L319.0,303.5 L319.5,303.5 L320.0,303.5 L320.5,303.5 L321.0,303.5 L321.5,303.5 L322.0,303.5 L322.5,303.5 L323.0,303.5 L323.5,303.5 L324.0,303.5 L324.5,303.5 L325.0,303.5 L325.5,303.5 L326.0,303.5 L326.5,303.5 L327.0,303.5 L327.5,303.5 L328.0,303.5 L328.5,303.5 L329.0,303.5 L329.5,303.5 L330.0,303.5 L330.5,303.5 L331.0,303.5 L331.5,303.5 L332.0,303.5 L332.5,303.5 L333.0,303.5 L333.5,303.5 L334.0,303.5 L334.5,303.5 L335.0,303.5 L335.5,303.5 L336.0,303.5 L336.5,303.5 L337.0,303.5 L337.5,303.5 L338.0,303.5 L338.5,303.5 L339.0,303.5 L339.5,303.5 L340.0,303.5 L340.5,303.5 L341.0,303.5 L341.5,303.5 L342.0,303.5 L342.5,303.5 L343.0,303.5 L343.5,303.5 L344.0,303.5 L344.5,303.5 L345.0,303.5 L345.5,303.5 L346.0,303.5 L346.5,303.5 L347.0,303.5 L347.5,303.5 L348.0,303.5 L348.5,303.5 L349.0,303.5 L349.5,303.5 L350.0,303.5 L350.5,303.5 L351.0,303.5 L351.5,303.5 L352.0,303.5 L352.5,303.5 L353.0,303.5 L353.5,303.5 L354.0,303.5 L354.5,303.5 L355.0,303.5 L355.5,303.5 L356.0,303.5 L356.5,303.5 L357.0,303.5 L357.5,303.5 L358.0,303.5 L358.5,303.5 L359.0,303.5 L359.5,303.5 L360.0,303.5 L360.5,303.5 L361.0,303.5 L361.5,303.5 L362.0,303.5 L362.5,303.5 L363.0,303.5 L363.5,303.5 L364.0,303.5 L364.5,303.5 L365.0,303.5 L365.5,303.5 L366.0,303.5 L366.5,303.5 L367.0,303.5 L367.5,303.5 L368.0,303.5 L368.5,303.5 L369.0,303.5 L369.5,303.5 L370.0,303.5 L370.5,303.5 L371.0,303.5 L371.5,303.5 L372.0,303.5 L372.5,303.5 L373.0,303.5 L373.5,303.5 L374.0,303.5 L374.5,303.5 L375.0,303.5 L375.5,303.5 L376.0,303.5 L376.5,303.5 L377.0,303.5 L377.5,303.5 L378.0,303.5 L378.5,303.5 L379.0,303.5 L379.5,303.5 L380.0,303.5 L380.5,303.5 L381.0,303.5 L381.5,303.5 L382.0,303.5 L382.5,303.5 L383.0,303.5 L383.5,303.5 L384.0,303.5 L384.5,303.5 L385.0,303.5 L385.5,303.5 L386.0,303.5 L386.5,303.5 L387.0,303.5 L387.5,303.5 L388.0,303.5 L388.5,303.5 L389.0,303.5 L389.5,303.5 L390.0,303.5 L390.5,303.5 L391.0,303.5 L391.5,303.5 L392.0,303.5 L392.5,303.5 L393.0,303.5 L393.5,303.5 L394.0,303.5 L394.5,303.6 L395.0,303.6 L395.5,303.6 L396.0,303.6 L396.5,303.6 L397.0,303.6 L397.5,303.6 L398.0,303.6 L398.5,303.6 L399.0,303.6 L399.5,303.6 L400.0,303.6 L400.5,303.6 L401.0,303.6 L401.5,303.6 L402.0,303.6 L402.5,303.6 L403.0,303.6 L403.5,303.6 L404.0,303.6 L404.5,303.6 L405.0,303.6 L405.5,303.6 L406.0,303.6 L406.5,303.6 L407.0,303.6 L407.5,303.6 L408.0,303.6 L408.5,303.6 L409.0,303.6 L409.5,303.6 L410.0,303.6 L410.5,303.6 L411.0,303.6 L411.5,303.6 L412.0,303.6 L412.5,303.6 L413.0,303.6 L413.5,303.6 L414.0,303.6 L414.5,303.6 L415.0,303.6 L415.5,303.6 L416.0,303.6 L416.5,303.6 L417.0,303.6 L417.5,303.6 L418.0,303.6 L418.5,303.6 L419.0,303.6 L419.5,303.6 L420.0,303.6 L420.5,303.6 L421.0,303.6 L421.5,303.6 L422.0,303.6 L422.5,303.6 L423.0,303.6 L423.5,303.6 L424.0,303.6 L424.5,303.6 L425.0,303.6 L425.5,303.6 L426.0,303.6 L426.5,303.6 L427.0,303.6 L427.5,303.6 L428.0,303.6 L428.5,303.6 L429.0,303.6 L429.5,303.6 L430.0,303.6 L430.5,303.6 L431.0,303.6 L431.5,303.6 L432.0,303.6 L432.5,303.6 L433.0,303.6 L433.5,303.6 L434.0,303.6 L434.5,303.6 L435.0,303.6 L435.5,303.6 L436.0,303.6 L436.5,303.6 L437.0,303.6 L437.5,303.6 L438.0,303.6 L438.5,303.6 L439.0,303.6 L439.5,303.6 L440.0,303.6 L440.5,303.6 L441.0,303.6 L441.5,303.6 L442.0,303.6 L442.5,303.6 L443.0,303.6 L443.5,303.6 L444.0,303.6 L444.5,303.6 L445.0,303.6 L445.5,303.6 L446.0,303.6 L446.5,303.6 L447.0,303.6 L447.5,303.6 L448.0,303.6 L448.5,303.6 L449.0,303.6 L449.5,303.6 L450.0,303.6 L450.5,303.6 L451.0,303.6 L451.5,303.6 L452.0,303.6 L452.5,303.6 L453.0,303.6 L453.5,303.6 L454.0,303.6 L454.5,303.6 L455.0,303.6 L455.5,303.6 L456.0,303.6 L456.5,303.6 L457.0,303.6 L457.5,303.6 L458.0,303.6 L458.5,303.6 L459.0,303.6 L459.5,303.6 L460.0,303.6 L460.5,303.6 L461.0,303.6 L461.5,303.6 L462.0,303.6 L462.5,303.6 L463.0,303.6 L463.5,303.6 L464.0,303.6 L464.5,303.6 L465.0,303.6 L465.5,303.6 L466.0,303.6 L466.5,303.6 L467.0,303.6 L467.5,303.6 L468.0,303.6 L468.5,303.6 L469.0,303.6 L469.5,303.6 L470.0,303.6 L470.5,303.6 L471.0,303.6 L471.5,303.6 L472.0,303.6 L472.5,303.6 L473.0,303.6 L473.5,303.6 L474.0,303.6 L474.5,303.6 L475.0,303.6 L475.5,303.6 L476.0,303.6 L476.5,303.6 L477.0,303.6 L477.5,303.6 L478.0,303.6 L478.5,303.6 L479.0,303.6 L479.5,303.6 L480.0,303.6 L480.5,303.6 L481.0,303.6 L481.5,303.6 L482.0,303.6 L482.5,303.6 L483.0,303.6 L483.5,303.6 L484.0,303.6 L484.5,303.6 L485.0,303.6 L485.5,303.6 L486.0,303.6 L486.5,303.6 L487.0,303.6 L487.5,303.6 L488.0,303.6 L488.5,303.6 L489.0,303.6 L489.5,303.6" stroke="#0535ff" stroke-width="2.1" fill="none" stroke-linejoin="round" stroke-linecap="round"/><path d="M299.5,304.0 L300.0,302.0 L300.4,300.0 L300.5,299.4 L301.0,296.2 L301.3,294.0 L301.5,292.4 L301.9,289.0 L302.0,288.1 L302.5,283.5 L303.0,277.0 L303.5,271.0 L304.0,267.6 L304.3,266.6 L304.5,266.3 L305.0,265.8 L305.5,265.5 L306.0,265.4 L306.5,265.3 L306.6,265.3 L307.0,265.4 L307.5,265.9 L307.9,266.3 L308.0,266.4 L308.5,267.1 L309.0,268.0 L309.2,268.4 L309.5,268.9 L310.0,269.9 L310.5,271.0 L311.0,272.1 L311.1,272.3 L311.5,273.3 L312.0,274.7 L312.5,276.1 L313.0,277.6 L313.5,279.0 L314.0,280.3 L314.5,281.6 L315.0,282.9 L315.5,284.2 L315.9,285.2 L316.0,285.5 L316.5,286.7 L317.0,287.9 L317.5,289.1 L318.0,290.3 L318.5,291.5 L319.0,292.7 L319.5,293.8 L320.0,295.0 L320.5,296.0 L321.0,297.0 L321.5,297.9 L322.0,298.7 L322.5,299.4 L323.0,300.1 L323.5,300.8 L324.0,301.4 L324.4,301.9 L324.5,302.0 L325.0,302.6 L325.5,303.1 L326.0,303.6 L326.5,304.1 L327.0,304.4 L327.5,304.7 L328.0,304.9 L328.5,305.1 L329.0,305.3 L329.5,305.4 L330.0,305.5 L330.5,305.5 L331.0,305.5 L331.5,305.6 L332.0,305.6 L332.5,305.6 L333.0,305.6 L333.5,305.6 L334.0,305.6 L334.5,305.6 L335.0,305.6 L335.5,305.6 L336.0,305.6 L336.5,305.5 L337.0,305.5 L337.5,305.5 L338.0,305.4 L338.5,305.4 L339.0,305.3 L339.5,305.3 L340.0,305.2 L340.5,305.1 L341.0,305.1 L341.5,305.0 L341.8,305.0 L342.0,305.0 L342.5,304.9 L343.0,304.9 L343.5,304.8 L344.0,304.8 L344.5,304.7 L345.0,304.7 L345.5,304.6 L346.0,304.6 L346.5,304.6 L347.0,304.5 L347.5,304.5 L348.0,304.4 L348.5,304.4 L349.0,304.4 L349.5,304.3 L350.0,304.3 L350.5,304.3 L351.0,304.3 L351.5,304.3 L352.0,304.4 L352.5,304.4 L353.0,304.5 L353.5,304.6 L354.0,304.7 L354.5,304.8 L355.0,304.8 L355.5,304.9 L356.0,305.0 L356.5,305.1 L357.0,305.2 L357.5,305.3 L358.0,305.4 L358.5,305.5 L359.0,305.5 L359.5,305.6 L360.0,305.7 L360.5,305.8 L361.0,305.8 L361.4,305.8 L361.5,305.8 L362.0,305.8 L362.5,305.8 L363.0,305.8 L363.5,305.7 L364.0,305.7 L364.5,305.7 L365.0,305.7 L365.5,305.6 L366.0,305.6 L366.5,305.6 L367.0,305.5 L367.5,305.4 L368.0,305.4 L368.5,305.3 L369.0,305.2 L369.5,305.1 L370.0,305.1 L370.5,305.0 L371.0,304.9 L371.3,304.9 L371.5,304.9 L372.0,304.8 L372.5,304.8 L373.0,304.7 L373.5,304.7 L374.0,304.7 L374.5,304.6 L375.0,304.6 L375.5,304.6 L376.0,304.5 L376.5,304.5 L377.0,304.5 L377.5,304.4 L378.0,304.4 L378.5,304.4 L379.0,304.3 L379.5,304.3 L380.0,304.3 L380.5,304.3 L381.0,304.3 L381.5,304.2 L382.0,304.2 L382.5,304.2 L383.0,304.2 L383.5,304.2 L384.0,304.2 L384.5,304.1 L385.0,304.1 L385.5,304.1 L386.0,304.1 L386.5,304.1 L387.0,304.1 L387.5,304.0 L388.0,304.0 L388.5,304.0 L389.0,304.0 L389.5,304.0 L390.0,304.0 L390.5,304.0 L391.0,304.0 L391.5,303.9 L392.0,303.9 L392.5,303.9 L393.0,303.9 L393.5,303.9 L394.0,303.9 L394.5,303.9 L395.0,303.9 L395.5,303.9 L396.0,303.9 L396.5,303.8 L397.0,303.8 L397.5,303.8 L398.0,303.8 L398.5,303.8 L399.0,303.8 L399.5,303.8 L400.0,303.8 L400.5,303.8 L401.0,303.8 L401.5,303.8 L402.0,303.8 L402.5,303.8 L403.0,303.8 L403.5,303.8 L404.0,303.8 L404.5,303.8 L405.0,303.7 L405.5,303.7 L406.0,303.7 L406.5,303.7 L407.0,303.7 L407.5,303.7 L408.0,303.7 L408.5,303.7 L409.0,303.7 L409.5,303.7 L410.0,303.7 L410.5,303.7 L411.0,303.7 L411.5,303.7 L412.0,303.7 L412.5,303.7 L413.0,303.7 L413.5,303.7 L414.0,303.7 L414.5,303.7 L415.0,303.7 L415.5,303.7 L416.0,303.7 L416.5,303.7 L417.0,303.7 L417.5,303.7 L418.0,303.7 L418.5,303.6 L419.0,303.6 L419.5,303.6 L420.0,303.6 L420.5,303.6 L421.0,303.6 L421.5,303.6 L422.0,303.6 L422.5,303.6 L423.0,303.6 L423.5,303.6 L424.0,303.6 L424.5,303.6 L425.0,303.6 L425.5,303.6 L426.0,303.6 L426.5,303.6 L427.0,303.6 L427.5,303.6 L428.0,303.6 L428.5,303.6 L429.0,303.6 L429.5,303.6 L430.0,303.6 L430.5,303.6 L431.0,303.6 L431.5,303.6 L432.0,303.6 L432.5,303.6 L433.0,303.6 L433.5,303.6 L434.0,303.6 L434.5,303.6 L435.0,303.6 L435.5,303.6 L436.0,303.6 L436.5,303.6 L437.0,303.6 L437.5,303.6 L438.0,303.6 L438.5,303.6 L439.0,303.6 L439.5,303.6 L440.0,303.6 L440.5,303.6 L441.0,303.6 L441.5,303.6 L442.0,303.6 L442.5,303.6 L443.0,303.6 L443.5,303.6 L444.0,303.6 L444.5,303.6 L445.0,303.6 L445.5,303.6 L446.0,303.6 L446.5,303.6 L447.0,303.6 L447.5,303.6 L448.0,303.6 L448.5,303.6 L449.0,303.6 L449.5,303.5 L450.0,303.5 L450.5,303.5 L451.0,303.5 L451.5,303.5 L452.0,303.5 L452.5,303.5 L453.0,303.5 L453.5,303.5 L454.0,303.5 L454.5,303.5 L455.0,303.5 L455.5,303.5 L456.0,303.5 L456.5,303.5 L457.0,303.5 L457.5,303.5 L458.0,303.5 L458.5,303.5 L459.0,303.5 L459.5,303.5 L460.0,303.5 L460.5,303.5 L461.0,303.5 L461.5,303.5 L462.0,303.5 L462.5,303.5 L463.0,303.5 L463.5,303.5 L464.0,303.5 L464.5,303.5 L465.0,303.5 L465.5,303.5 L466.0,303.5 L466.5,303.5 L467.0,303.5 L467.5,303.5 L468.0,303.5 L468.5,303.5 L469.0,303.5 L469.5,303.5 L470.0,303.5 L470.5,303.5 L471.0,303.5 L471.5,303.5 L472.0,303.5 L472.5,303.5 L473.0,303.5 L473.5,303.5 L474.0,303.5 L474.5,303.5 L475.0,303.5 L475.5,303.5 L476.0,303.5 L476.5,303.5 L477.0,303.5 L477.5,303.5 L478.0,303.5 L478.5,303.5 L479.0,303.5 L479.5,303.5 L480.0,303.5 L480.5,303.5 L481.0,303.5 L481.5,303.5 L482.0,303.5 L482.5,303.5 L483.0,303.5 L483.5,303.5 L484.0,303.5 L484.5,303.5 L485.0,303.5 L485.5,303.5 L486.0,303.5 L486.5,303.5 L487.0,303.5 L487.5,303.5 L488.0,303.5 L488.5,303.5 L489.0,303.5 L489.5,303.5" stroke="#00ffff" stroke-width="2.3" fill="none" stroke-linejoin="round" stroke-linecap="round"/></g>
<g font-family="'Liberation Serif','Times New Roman',serif" font-size="12.8" fill="#262626" stroke="#262626" stroke-width="0.15">
<path d="M49.00,110.50v-1.9M49.00,31.50v1.9M87.10,110.50v-1.9M87.10,31.50v1.9M125.20,110.50v-1.9M125.20,31.50v1.9M163.30,110.50v-1.9M163.30,31.50v1.9M201.40,110.50v-1.9M201.40,31.50v1.9M239.50,110.50v-1.9M239.50,31.50v1.9M49.00,110.50h1.9M239.50,110.50h-1.9M49.00,90.75h1.9M239.50,90.75h-1.9M49.00,71.00h1.9M239.50,71.00h-1.9M49.00,51.25h1.9M239.50,51.25h-1.9M49.00,31.50h1.9M239.50,31.50h-1.9" stroke="#262626" stroke-width="1" fill="none"/>
<rect x="49.00" y="31.50" width="190.50" height="79.00" fill="none" stroke="#585858" stroke-width="1.6"/>
<text x="49.00" y="126.30" text-anchor="middle">0</text>
<text x="87.10" y="126.30" text-anchor="middle">5</text>
<text x="125.20" y="126.30" text-anchor="middle">10</text>
<text x="163.30" y="126.30" text-anchor="middle">15</text>
<text x="201.40" y="126.30" text-anchor="middle">20</text>
<text x="239.50" y="126.30" text-anchor="middle">25</text>
<text x="43.70" y="114.00" text-anchor="end">-50</text>
<text x="43.70" y="94.25" text-anchor="end">-25</text>
<text x="43.70" y="74.50" text-anchor="end">0</text>
<text x="43.70" y="54.75" text-anchor="end">25</text>
<text x="43.70" y="35.00" text-anchor="end">50</text>
<path d="M299.50,110.50v-1.9M299.50,31.50v1.9M337.50,110.50v-1.9M337.50,31.50v1.9M375.50,110.50v-1.9M375.50,31.50v1.9M413.50,110.50v-1.9M413.50,31.50v1.9M451.50,110.50v-1.9M451.50,31.50v1.9M489.50,110.50v-1.9M489.50,31.50v1.9M299.50,110.50h1.9M489.50,110.50h-1.9M299.50,94.70h1.9M489.50,94.70h-1.9M299.50,78.90h1.9M489.50,78.90h-1.9M299.50,63.10h1.9M489.50,63.10h-1.9M299.50,47.30h1.9M489.50,47.30h-1.9M299.50,31.50h1.9M489.50,31.50h-1.9" stroke="#262626" stroke-width="1" fill="none"/>
<rect x="299.50" y="31.50" width="190.00" height="79.00" fill="none" stroke="#585858" stroke-width="1.6"/>
<text x="299.50" y="126.30" text-anchor="middle">0</text>
<text x="337.50" y="126.30" text-anchor="middle">5</text>
<text x="375.50" y="126.30" text-anchor="middle">10</text>
<text x="413.50" y="126.30" text-anchor="middle">15</text>
<text x="451.50" y="126.30" text-anchor="middle">20</text>
<text x="489.50" y="126.30" text-anchor="middle">25</text>
<text x="294.20" y="114.00" text-anchor="end">-15</text>
<text x="294.20" y="98.20" text-anchor="end">-10</text>
<text x="294.20" y="82.40" text-anchor="end">-5</text>
<text x="294.20" y="66.60" text-anchor="end">0</text>
<text x="294.20" y="50.80" text-anchor="end">5</text>
<text x="294.20" y="35.00" text-anchor="end">10</text>
<path d="M49.00,220.50v-1.9M49.00,141.50v1.9M87.10,220.50v-1.9M87.10,141.50v1.9M125.20,220.50v-1.9M125.20,141.50v1.9M163.30,220.50v-1.9M163.30,141.50v1.9M201.40,220.50v-1.9M201.40,141.50v1.9M239.50,220.50v-1.9M239.50,141.50v1.9M49.00,220.50h1.9M239.50,220.50h-1.9M49.00,200.75h1.9M239.50,200.75h-1.9M49.00,181.00h1.9M239.50,181.00h-1.9M49.00,161.25h1.9M239.50,161.25h-1.9M49.00,141.50h1.9M239.50,141.50h-1.9" stroke="#262626" stroke-width="1" fill="none"/>
<rect x="49.00" y="141.50" width="190.50" height="79.00" fill="none" stroke="#585858" stroke-width="1.6"/>
<text x="49.00" y="236.30" text-anchor="middle">0</text>
<text x="87.10" y="236.30" text-anchor="middle">5</text>
<text x="125.20" y="236.30" text-anchor="middle">10</text>
<text x="163.30" y="236.30" text-anchor="middle">15</text>
<text x="201.40" y="236.30" text-anchor="middle">20</text>
<text x="239.50" y="236.30" text-anchor="middle">25</text>
<text x="43.70" y="224.00" text-anchor="end">-60</text>
<text x="43.70" y="204.25" text-anchor="end">-30</text>
<text x="43.70" y="184.50" text-anchor="end">0</text>
<text x="43.70" y="164.75" text-anchor="end">30</text>
<text x="43.70" y="145.00" text-anchor="end">60</text>
<path d="M299.50,220.50v-1.9M299.50,141.50v1.9M337.50,220.50v-1.9M337.50,141.50v1.9M375.50,220.50v-1.9M375.50,141.50v1.9M413.50,220.50v-1.9M413.50,141.50v1.9M451.50,220.50v-1.9M451.50,141.50v1.9M489.50,220.50v-1.9M489.50,141.50v1.9M299.50,220.50h1.9M489.50,220.50h-1.9M299.50,194.17h1.9M489.50,194.17h-1.9M299.50,167.83h1.9M489.50,167.83h-1.9M299.50,141.50h1.9M489.50,141.50h-1.9" stroke="#262626" stroke-width="1" fill="none"/>
<rect x="299.50" y="141.50" width="190.00" height="79.00" fill="none" stroke="#585858" stroke-width="1.6"/>
<text x="299.50" y="236.30" text-anchor="middle">0</text>
<text x="337.50" y="236.30" text-anchor="middle">5</text>
<text x="375.50" y="236.30" text-anchor="middle">10</text>
<text x="413.50" y="236.30" text-anchor="middle">15</text>
<text x="451.50" y="236.30" text-anchor="middle">20</text>
<text x="489.50" y="236.30" text-anchor="middle">25</text>
<text x="294.20" y="224.00" text-anchor="end">-20</text>
<text x="294.20" y="197.67" text-anchor="end">-10</text>
<text x="294.20" y="171.33" text-anchor="end">0</text>
<text x="294.20" y="145.00" text-anchor="end">10</text>
<path d="M49.00,330.50v-1.9M49.00,251.00v1.9M87.10,330.50v-1.9M87.10,251.00v1.9M125.20,330.50v-1.9M125.20,251.00v1.9M163.30,330.50v-1.9M163.30,251.00v1.9M201.40,330.50v-1.9M201.40,251.00v1.9M239.50,330.50v-1.9M239.50,251.00v1.9M49.00,330.50h1.9M239.50,330.50h-1.9M49.00,304.00h1.9M239.50,304.00h-1.9M49.00,277.50h1.9M239.50,277.50h-1.9M49.00,251.00h1.9M239.50,251.00h-1.9" stroke="#262626" stroke-width="1" fill="none"/>
<rect x="49.00" y="251.00" width="190.50" height="79.50" fill="none" stroke="#585858" stroke-width="1.6"/>
<text x="49.00" y="346.30" text-anchor="middle">0</text>
<text x="87.10" y="346.30" text-anchor="middle">5</text>
<text x="125.20" y="346.30" text-anchor="middle">10</text>
<text x="163.30" y="346.30" text-anchor="middle">15</text>
<text x="201.40" y="346.30" text-anchor="middle">20</text>
<text x="239.50" y="346.30" text-anchor="middle">25</text>
<text x="43.70" y="334.00" text-anchor="end">-5</text>
<text x="43.70" y="307.50" text-anchor="end">0</text>
<text x="43.70" y="281.00" text-anchor="end">5</text>
<text x="43.70" y="254.50" text-anchor="end">10</text>
<path d="M299.50,330.50v-1.9M299.50,251.00v1.9M337.50,330.50v-1.9M337.50,251.00v1.9M375.50,330.50v-1.9M375.50,251.00v1.9M413.50,330.50v-1.9M413.50,251.00v1.9M451.50,330.50v-1.9M451.50,251.00v1.9M489.50,330.50v-1.9M489.50,251.00v1.9M299.50,330.50h1.9M489.50,330.50h-1.9M299.50,304.00h1.9M489.50,304.00h-1.9M299.50,277.50h1.9M489.50,277.50h-1.9M299.50,251.00h1.9M489.50,251.00h-1.9" stroke="#262626" stroke-width="1" fill="none"/>
<rect x="299.50" y="251.00" width="190.00" height="79.50" fill="none" stroke="#585858" stroke-width="1.6"/>
<text x="299.50" y="346.30" text-anchor="middle">0</text>
<text x="337.50" y="346.30" text-anchor="middle">5</text>
<text x="375.50" y="346.30" text-anchor="middle">10</text>
<text x="413.50" y="346.30" text-anchor="middle">15</text>
<text x="451.50" y="346.30" text-anchor="middle">20</text>
<text x="489.50" y="346.30" text-anchor="middle">25</text>
<text x="294.20" y="334.00" text-anchor="end">-2</text>
<text x="294.20" y="307.50" text-anchor="end">0</text>
<text x="294.20" y="281.00" text-anchor="end">2</text>
<text x="294.20" y="254.50" text-anchor="end">4</text>
</g>
<text transform="translate(20.00,87.00) rotate(-90)" font-family="'Liberation Serif','Times New Roman',serif" fill="#262626" stroke="#262626" stroke-width="0.3"><tspan x="-8.75" y="0.09" font-size="15" font-style="italic" stroke-width="0.35" textLength="8.40" lengthAdjust="spacingAndGlyphs">p</tspan><tspan x="-0.44" y="1.51" font-size="22.5" stroke-width="0" textLength="5.10" lengthAdjust="spacingAndGlyphs">(</tspan><tspan x="6.40" y="-4.55" font-size="7.5" stroke-width="1.1">°</tspan><tspan x="10.22" y="3.12" font-size="25" stroke-width="0" textLength="5.56" lengthAdjust="spacingAndGlyphs">/</tspan><tspan x="16.33" y="-0.35" font-size="11.5" stroke-width="0.45">s</tspan><tspan x="22.34" y="1.51" font-size="22.5" stroke-width="0" textLength="5.10" lengthAdjust="spacingAndGlyphs">)</tspan></text>
<text transform="translate(20.00,195.90) rotate(-90)" font-family="'Liberation Serif','Times New Roman',serif" fill="#262626" stroke="#262626" stroke-width="0.3"><tspan x="-9.12" y="0.29" font-size="15" font-style="italic" stroke-width="0.35">q</tspan><tspan x="-0.44" y="1.51" font-size="22.5" stroke-width="0" textLength="5.10" lengthAdjust="spacingAndGlyphs">(</tspan><tspan x="6.40" y="-4.55" font-size="7.5" stroke-width="1.1">°</tspan><tspan x="10.22" y="3.12" font-size="25" stroke-width="0" textLength="5.56" lengthAdjust="spacingAndGlyphs">/</tspan><tspan x="16.33" y="-0.35" font-size="11.5" stroke-width="0.45">s</tspan><tspan x="22.34" y="1.51" font-size="22.5" stroke-width="0" textLength="5.10" lengthAdjust="spacingAndGlyphs">)</tspan></text>
<text transform="translate(20.00,309.00) rotate(-90)" font-family="'Liberation Serif','Times New Roman',serif" fill="#262626" stroke="#262626" stroke-width="0.3"><tspan x="-8.42" y="0.18" font-size="13.5" font-style="italic" stroke-width="0.35">r</tspan><tspan x="-0.44" y="1.51" font-size="22.5" stroke-width="0" textLength="5.10" lengthAdjust="spacingAndGlyphs">(</tspan><tspan x="6.40" y="-4.55" font-size="7.5" stroke-width="1.1">°</tspan><tspan x="10.22" y="3.12" font-size="25" stroke-width="0" textLength="5.56" lengthAdjust="spacingAndGlyphs">/</tspan><tspan x="16.33" y="-0.35" font-size="11.5" stroke-width="0.45">s</tspan><tspan x="22.34" y="1.51" font-size="22.5" stroke-width="0" textLength="5.10" lengthAdjust="spacingAndGlyphs">)</tspan></text>
<text transform="translate(272.30,81.70) rotate(-90)" font-family="'Liberation Serif','Times New Roman',serif" fill="#262626" stroke="#262626" stroke-width="0.3"><tspan x="-10.02" y="-0.03" font-size="14" font-style="italic" stroke-width="0.35">ϕ</tspan><tspan x="-0.84" y="1.51" font-size="22.5" stroke-width="0" textLength="5.10" lengthAdjust="spacingAndGlyphs">(</tspan><tspan x="6.00" y="-4.55" font-size="7.5" stroke-width="1.1">°</tspan><tspan x="10.84" y="1.51" font-size="22.5" stroke-width="0" textLength="5.10" lengthAdjust="spacingAndGlyphs">)</tspan></text>
<text transform="translate(272.30,189.80) rotate(-90)" font-family="'Liberation Serif','Times New Roman',serif" fill="#262626" stroke="#262626" stroke-width="0.3"><tspan x="-9.67" y="0.28" font-size="14" font-style="italic" stroke-width="0.35">θ</tspan><tspan x="-0.84" y="1.51" font-size="22.5" stroke-width="0" textLength="5.10" lengthAdjust="spacingAndGlyphs">(</tspan><tspan x="6.00" y="-4.55" font-size="7.5" stroke-width="1.1">°</tspan><tspan x="10.84" y="1.51" font-size="22.5" stroke-width="0" textLength="5.10" lengthAdjust="spacingAndGlyphs">)</tspan></text>
<text transform="translate(272.30,298.60) rotate(-90)" font-family="'Liberation Serif','Times New Roman',serif" fill="#262626" stroke="#262626" stroke-width="0.3"><tspan x="-11.76" y="0.57" font-size="14" font-style="italic" stroke-width="0.35">ψ</tspan><tspan x="-0.84" y="1.51" font-size="22.5" stroke-width="0" textLength="5.10" lengthAdjust="spacingAndGlyphs">(</tspan><tspan x="6.00" y="-4.55" font-size="7.5" stroke-width="1.1">°</tspan><tspan x="10.84" y="1.51" font-size="22.5" stroke-width="0" textLength="5.10" lengthAdjust="spacingAndGlyphs">)</tspan></text>
<text font-family="'Liberation Serif','Times New Roman',serif" fill="#262626" stroke="#262626" stroke-width="0.3"><tspan x="135.73" y="362.00" font-size="13" font-style="italic">t</tspan><tspan x="141.45" y="363.09" font-size="17" textLength="4.25" lengthAdjust="spacingAndGlyphs">(</tspan><tspan x="146.99" y="362.35" font-size="13">s</tspan><tspan x="153.35" y="363.09" font-size="17" textLength="4.25" lengthAdjust="spacingAndGlyphs">)</tspan></text>
<text font-family="'Liberation Serif','Times New Roman',serif" fill="#262626" stroke="#262626" stroke-width="0.3"><tspan x="387.93" y="362.00" font-size="13" font-style="italic">t</tspan><tspan x="393.65" y="363.09" font-size="17" textLength="4.25" lengthAdjust="spacingAndGlyphs">(</tspan><tspan x="399.19" y="362.35" font-size="13">s</tspan><tspan x="405.55" y="363.09" font-size="17" textLength="4.25" lengthAdjust="spacingAndGlyphs">)</tspan></text>
<rect x="388.2" y="5.5" width="154.40" height="42.20" fill="#fff" stroke="#585858" stroke-width="1.5"/>
<path d="M390.8,13.1H416.3" stroke="#ff00ff" stroke-width="2.1"/>
<text x="418.6" y="17.2" font-family="'Liberation Serif','Times New Roman',serif" font-size="11" fill="#111" stroke="#111" stroke-width="0.35" textLength="115.1" lengthAdjust="spacingAndGlyphs">Attitude angle Command</text>
<path d="M390.8,26.9H416.3" stroke="#0535ff" stroke-width="2.1"/>
<text x="418.6" y="30.2" font-family="'Liberation Serif','Times New Roman',serif" font-size="11" fill="#111" stroke="#111" stroke-width="0.35" textLength="114.4" lengthAdjust="spacingAndGlyphs">Thrust Vectoring Scheme</text>
<path d="M390.8,40.4H416.3" stroke="#00ffff" stroke-width="2.1"/>
<text x="418.6" y="43.5" font-family="'Liberation Serif','Times New Roman',serif" font-size="11" fill="#111" stroke="#111" stroke-width="0.35" textLength="102.6" lengthAdjust="spacingAndGlyphs">Conventional Scheme</text>
</svg>
</body></html>
